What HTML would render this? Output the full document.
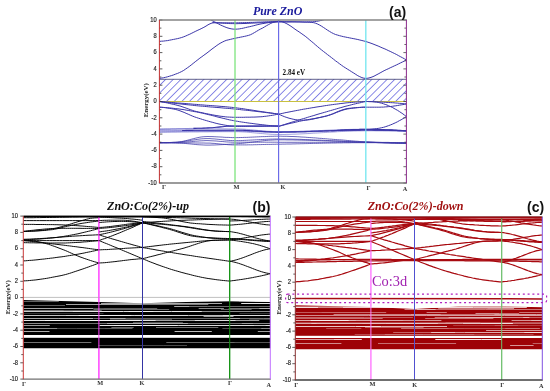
<!DOCTYPE html>
<html><head><meta charset="utf-8"><style>
html,body{margin:0;padding:0;background:#fff;width:550px;height:391px;overflow:hidden}
svg{display:block}
.tl{font-family:"Liberation Sans",Arial,sans-serif;font-size:6.7px;fill:#2a2a2a;stroke:#2a2a2a;stroke-width:0.2;text-anchor:end}
.kl{font-family:"Liberation Serif","DejaVu Serif",serif;font-size:6.3px;font-weight:bold;fill:#333;text-anchor:middle}
.ttl{font-family:"Liberation Serif",serif;font-size:13px;font-weight:bold;font-style:italic}
.pl{font-family:"Liberation Sans",Arial,sans-serif;font-size:14px;font-weight:bold;fill:#111}
.ev{font-family:"Liberation Serif",serif;font-size:7.8px;font-weight:bold;fill:#111}
.co{font-family:"Liberation Serif",serif;font-size:14.4px;fill:#a020b0}
.yl{font-family:"Liberation Serif",serif;font-size:6.9px;font-weight:bold;fill:#1a1a1a}
</style></head><body>
<svg width="550" height="391" viewBox="0 0 550 391"><defs><pattern id="hatch" patternUnits="userSpaceOnUse" width="5.4" height="5.4" patternTransform="rotate(45)">
<line x1="0" y1="0" x2="0" y2="5.4" stroke="#3535d5" stroke-width="1.15"/></pattern></defs><defs><clipPath id="clipa"><rect x="159.4" y="20.0" width="246.99999999999997" height="163.0"/></clipPath><clipPath id="clipb"><rect x="23.3" y="216.1" width="247.0" height="163.00000000000003"/></clipPath><clipPath id="clipc"><rect x="295.3" y="217.0" width="246.99999999999994" height="163.0"/></clipPath></defs><rect width="550" height="391" fill="#ffffff"/><line x1="235.0" y1="20.0" x2="235.0" y2="183.0" stroke="#8ee88e" stroke-width="1"/><line x1="278.6" y1="20.0" x2="278.6" y2="183.0" stroke="#6a6ae8" stroke-width="1"/><line x1="365.8" y1="20.0" x2="365.8" y2="183.0" stroke="#7ee8f0" stroke-width="1"/><rect x="159.4" y="79.3" width="247" height="22.2" fill="url(#hatch)"/><line x1="159.4" y1="79.3" x2="406.4" y2="79.3" stroke="#3a3a70" stroke-width="0.8"/><line x1="159.4" y1="101.5" x2="406.4" y2="101.5" stroke="#c8c040" stroke-width="1"/><g fill="none" stroke="#3b36a8" stroke-width="1.0" clip-path="url(#clipa)"><path d="M159.4,78.4 L161.4,78.1 L163.4,77.8 L165.5,77.3 L167.5,76.8 L169.5,76.2 L171.5,75.6 L173.6,74.9 L175.6,74.1 L177.6,73.4 L179.6,72.5 L181.7,71.5 L183.7,70.4 L185.7,69.0 L187.7,67.6 L189.8,66.1 L191.8,64.5 L193.8,62.9 L195.8,61.3 L197.9,59.7 L199.9,58.1 L201.9,56.7 L203.9,55.2 L206.0,53.7 L208.0,52.2 L210.0,50.6 L212.0,49.0 L214.1,47.5 L216.1,46.0 L218.1,44.6 L220.1,43.3 L222.2,42.2 L224.2,41.2 L226.2,40.4 L228.2,39.9 L230.3,39.4 L232.3,38.9 L234.3,38.5 L236.3,38.0 L238.4,37.6 L240.4,37.2 L242.4,36.8 L244.4,36.4 L246.5,35.9 L248.5,35.4 L250.5,34.7 L252.5,33.7 L254.6,32.5 L256.6,31.3 L258.6,30.1 L260.6,29.0 L262.7,28.0 L264.7,26.8 L266.7,25.6 L268.7,24.5 L270.8,23.4 L272.8,22.5 L274.8,21.8 L276.8,21.4 L278.9,21.2 L280.9,21.4 L282.9,22.0 L284.9,22.8 L286.9,23.8 L289.0,25.0 L291.0,26.3 L293.0,27.7 L295.0,29.2 L297.1,30.6 L299.1,31.9 L301.1,33.3 L303.1,34.7 L305.2,36.2 L307.2,37.8 L309.2,39.5 L311.2,41.2 L313.3,42.9 L315.3,44.7 L317.3,46.4 L319.3,48.1 L321.4,49.8 L323.4,51.4 L325.4,52.9 L327.4,54.5 L329.5,56.1 L331.5,57.6 L333.5,59.2 L335.5,60.8 L337.6,62.3 L339.6,63.8 L341.6,65.3 L343.6,66.7 L345.7,68.0 L347.7,69.3 L349.7,70.5 L351.7,71.8 L353.8,73.1 L355.8,74.4 L357.8,75.7 L359.8,76.7 L361.9,77.6 L363.9,78.2 L365.9,78.4 L367.9,78.2 L370.0,77.7 L372.0,77.0 L374.0,76.2 L376.0,75.1 L378.1,74.0 L380.1,72.9 L382.1,71.8 L384.1,70.7 L386.2,69.7 L388.2,68.8 L390.2,67.8 L392.2,66.9 L394.3,65.9 L396.3,65.0 L398.3,64.0 L400.3,63.0 L402.4,62.0 L404.4,61.0 L406.4,59.9"/><path d="M159.4,41.4 L161.4,41.2 L163.4,41.1 L165.5,40.8 L167.5,40.6 L169.5,40.2 L171.5,39.8 L173.6,39.4 L175.6,39.0 L177.6,38.6 L179.6,38.1 L181.7,37.5 L183.7,36.8 L185.7,36.0 L187.7,35.1 L189.8,34.2 L191.8,33.2 L193.8,32.2 L195.8,31.2 L197.9,30.2 L199.9,29.3 L201.9,28.3 L203.9,27.3 L206.0,26.1 L208.0,24.8 L210.0,23.8 L212.0,23.0 L214.1,22.8 L216.1,22.8 L218.1,22.8 L220.1,22.8 L222.2,22.8 L224.2,22.8 L226.2,22.8 L228.2,22.8 L230.3,22.8 L232.3,22.8 L234.3,22.8 L236.3,22.8 L238.4,22.8 L240.4,22.7 L242.4,22.7 L244.4,22.6 L246.5,22.6 L248.5,22.5 L250.5,22.4 L252.5,22.4 L254.6,22.3 L256.6,22.2 L258.6,22.1 L260.6,22.1 L262.7,22.0 L264.7,21.9 L266.7,21.8 L268.7,21.8 L270.8,21.7 L272.8,21.7 L274.8,21.7 L276.8,21.6 L278.9,21.6 L280.9,21.6 L282.9,21.6 L284.9,21.7 L286.9,21.7 L289.0,21.7 L291.0,21.7 L293.0,21.8 L295.0,21.8 L297.1,21.9 L299.1,21.9 L301.1,22.0 L303.1,22.1 L305.2,22.2 L307.2,22.2 L309.2,22.3 L311.2,22.4 L313.3,22.6 L315.3,23.1 L317.3,23.9 L319.3,24.9 L321.4,26.1 L323.4,27.4 L325.4,28.7 L327.4,30.1 L329.5,31.4 L331.5,32.6 L333.5,33.6 L335.5,34.5 L337.6,35.1 L339.6,35.7 L341.6,36.2 L343.6,36.7 L345.7,37.1 L347.7,37.5 L349.7,37.9 L351.7,38.3 L353.8,38.7 L355.8,39.1 L357.8,39.5 L359.8,40.0 L361.9,40.5 L363.9,41.0 L365.9,41.5 L367.9,42.2 L370.0,42.9 L372.0,43.6 L374.0,44.4 L376.0,45.2 L378.1,46.0 L380.1,46.9 L382.1,47.8 L384.1,48.6 L386.2,49.5 L388.2,50.5 L390.2,51.4 L392.2,52.4 L394.3,53.4 L396.3,54.4 L398.3,55.5 L400.3,56.6 L402.4,57.7 L404.4,58.8 L406.4,59.9"/><path d="M206.3,16.7 L208.3,18.2 L210.4,19.6 L212.5,20.7 L214.5,21.8 L216.6,22.9 L218.7,24.0 L220.7,25.1 L222.8,26.0 L224.9,26.9 L226.9,27.7 L229.0,28.3 L231.1,28.8 L233.1,29.1 L235.2,29.2 L237.3,29.1 L239.3,28.9 L241.4,28.5 L243.5,28.1 L245.5,27.6 L247.6,27.1 L249.7,26.7 L251.7,26.2 L253.8,25.7 L255.9,25.1 L257.9,24.6 L260.0,24.1 L262.1,23.7 L264.1,23.4 L266.2,23.0 L268.3,22.7 L270.3,22.4 L272.4,22.1 L274.5,21.9 L276.5,21.6 L278.6,21.5"/><path d="M212.3,22.3 L214.4,22.5 L216.4,22.7 L218.5,22.8 L220.5,23.0 L222.5,23.2 L224.6,23.3 L226.6,23.4 L228.7,23.5 L230.7,23.6 L232.8,23.6 L234.8,23.7 L236.9,23.7 L238.9,23.6 L240.9,23.6 L243.0,23.5 L245.0,23.5 L247.1,23.4 L249.1,23.3 L251.2,23.2 L253.2,23.1 L255.3,23.0 L257.3,22.9 L259.4,22.8 L261.4,22.7 L263.4,22.6 L265.5,22.5 L267.5,22.4 L269.6,22.3 L271.6,22.2 L273.7,22.1 L275.7,22.1 L277.8,22.0 L279.8,22.0 L281.8,22.0 L283.9,22.0 L285.9,22.0 L288.0,22.0 L290.0,22.0 L292.1,21.9 L294.1,21.9 L296.2,21.9 L298.2,21.9 L300.2,21.9 L302.3,21.9 L304.3,21.9 L306.4,21.9 L308.4,21.8 L310.5,21.8 L312.5,21.8 L314.6,21.6 L316.6,21.3 L318.7,21.0 L320.7,20.5 L322.7,20.0 L324.8,19.4 L326.8,18.8 L328.9,18.2 L330.9,17.6"/><path d="M159.4,101.5 L161.5,101.7 L163.5,101.8 L165.6,102.0 L167.6,102.1 L169.7,102.3 L171.7,102.5 L173.8,102.6 L175.8,102.8 L177.9,103.0 L180.0,103.1 L182.0,103.3 L184.1,103.4 L186.1,103.6 L188.2,103.8 L190.2,103.9 L192.3,104.1 L194.3,104.3 L196.4,104.4 L198.4,104.6 L200.5,104.8 L202.6,104.9 L204.6,105.1 L206.7,105.3 L208.7,105.4 L210.8,105.6 L212.8,105.7 L214.9,105.9 L216.9,106.0 L219.0,106.2 L221.1,106.4 L223.1,106.5 L225.2,106.7 L227.2,106.9 L229.3,107.1 L231.3,107.3 L233.4,107.5 L235.4,107.7 L237.5,108.0 L239.6,108.3 L241.6,108.5 L243.7,108.8 L245.7,109.2 L247.8,109.5 L249.8,109.8 L251.9,110.1 L253.9,110.4 L256.0,110.8 L258.0,111.1 L260.1,111.4 L262.2,111.7 L264.2,112.0 L266.3,112.3 L268.3,112.6 L270.4,112.9 L272.4,113.2 L274.5,113.5 L276.5,113.8 L278.6,114.1"/><path d="M159.4,101.5 L161.5,101.8 L163.5,102.0 L165.6,102.3 L167.6,102.5 L169.7,102.7 L171.7,103.0 L173.8,103.2 L175.8,103.5 L177.9,103.7 L180.0,103.9 L182.0,104.1 L184.1,104.4 L186.1,104.6 L188.2,104.8 L190.2,105.0 L192.3,105.2 L194.3,105.5 L196.4,105.7 L198.4,105.9 L200.5,106.1 L202.6,106.2 L204.6,106.4 L206.7,106.6 L208.7,106.8 L210.8,107.0 L212.8,107.1 L214.9,107.3 L216.9,107.5 L219.0,107.6 L221.1,107.8 L223.1,108.0 L225.2,108.2 L227.2,108.3 L229.3,108.5 L231.3,108.7 L233.4,108.9 L235.4,109.1 L237.5,109.3 L239.6,109.5 L241.6,109.8 L243.7,110.0 L245.7,110.2 L247.8,110.4 L249.8,110.6 L251.9,110.9 L253.9,111.1 L256.0,111.3 L258.0,111.6 L260.1,111.8 L262.2,112.1 L264.2,112.3 L266.3,112.6 L268.3,112.8 L270.4,113.1 L272.4,113.3 L274.5,113.6 L276.5,113.9 L278.6,114.1"/><path d="M159.4,101.5 L161.5,101.8 L163.5,102.2 L165.6,102.6 L167.6,103.0 L169.7,103.5 L171.7,104.0 L173.8,104.4 L175.8,104.9 L177.9,105.5 L180.0,106.0 L182.0,106.7 L184.1,107.4 L186.1,108.1 L188.2,108.9 L190.2,109.6 L192.3,110.3 L194.3,111.0 L196.4,111.5 L198.4,112.0 L200.5,112.4 L202.6,112.8 L204.6,113.3 L206.7,113.7 L208.7,114.1 L210.8,114.5 L212.8,114.9 L214.9,115.3 L216.9,115.6 L219.0,116.0 L221.1,116.3 L223.1,116.5 L225.2,116.8 L227.2,117.0 L229.3,117.1 L231.3,117.2 L233.4,117.3 L235.4,117.3 L237.5,117.3 L239.6,117.3 L241.6,117.3 L243.7,117.3 L245.7,117.2 L247.8,117.2 L249.8,117.2 L251.9,117.1 L253.9,117.1 L256.0,117.0 L258.0,116.9 L260.1,116.8 L262.2,116.7 L264.2,116.4 L266.3,116.2 L268.3,115.9 L270.4,115.6 L272.4,115.3 L274.5,114.9 L276.5,114.5 L278.6,114.1"/><path d="M159.4,107.2 L161.5,107.3 L163.5,107.4 L165.6,107.6 L167.6,107.8 L169.7,107.9 L171.7,108.1 L173.8,108.4 L175.8,108.6 L177.9,108.8 L180.0,109.1 L182.0,109.4 L184.1,109.7 L186.1,110.1 L188.2,110.4 L190.2,110.8 L192.3,111.2 L194.3,111.6 L196.4,111.9 L198.4,112.3 L200.5,112.8 L202.6,113.2 L204.6,113.7 L206.7,114.2 L208.7,114.7 L210.8,115.2 L212.8,115.7 L214.9,116.2 L216.9,116.8 L219.0,117.3 L221.1,117.8 L223.1,118.3 L225.2,118.8 L227.2,119.3 L229.3,119.8 L231.3,120.2 L233.4,120.6 L235.4,121.0 L237.5,121.3 L239.6,121.7 L241.6,122.0 L243.7,122.3 L245.7,122.6 L247.8,122.9 L249.8,123.2 L251.9,123.4 L253.9,123.7 L256.0,124.0 L258.0,124.2 L260.1,124.5 L262.2,124.7 L264.2,124.9 L266.3,125.2 L268.3,125.4 L270.4,125.6 L272.4,125.8 L274.5,126.0 L276.5,126.2 L278.6,126.4"/><path d="M159.4,107.2 L161.5,107.3 L163.5,107.5 L165.6,107.7 L167.6,108.0 L169.7,108.4 L171.7,108.7 L173.8,109.1 L175.8,109.5 L177.9,110.1 L180.0,110.8 L182.0,111.6 L184.1,112.4 L186.1,113.3 L188.2,114.2 L190.2,115.1 L192.3,116.0 L194.3,116.8 L196.4,117.5 L198.4,118.2 L200.5,118.8 L202.6,119.5 L204.6,120.1 L206.7,120.7 L208.7,121.3 L210.8,121.9 L212.8,122.4 L214.9,123.0 L216.9,123.5 L219.0,124.0 L221.1,124.4 L223.1,124.8 L225.2,125.2 L227.2,125.5 L229.3,125.8 L231.3,126.1 L233.4,126.3 L235.4,126.4 L237.5,126.4 L239.6,126.4 L241.6,126.4 L243.7,126.4 L245.7,126.4 L247.8,126.3 L249.8,126.3 L251.9,126.3 L253.9,126.3 L256.0,126.3 L258.0,126.3 L260.1,126.3 L262.2,126.3 L264.2,126.2 L266.3,126.2 L268.3,126.2 L270.4,126.1 L272.4,126.1 L274.5,126.1 L276.5,126.0 L278.6,126.0"/><path d="M278.6,114.1 L280.7,113.7 L282.8,113.3 L284.8,112.8 L286.9,112.4 L289.0,112.0 L291.1,111.6 L293.1,111.2 L295.2,110.8 L297.3,110.4 L299.4,110.0 L301.4,109.6 L303.5,109.2 L305.6,108.9 L307.7,108.5 L309.7,108.2 L311.8,107.8 L313.9,107.5 L316.0,107.1 L318.0,106.8 L320.1,106.5 L322.2,106.2 L324.3,105.8 L326.4,105.5 L328.4,105.2 L330.5,104.9 L332.6,104.6 L334.7,104.3 L336.7,104.1 L338.8,103.8 L340.9,103.5 L343.0,103.3 L345.0,103.0 L347.1,102.8 L349.2,102.6 L351.3,102.5 L353.3,102.3 L355.4,102.1 L357.5,102.0 L359.6,101.8 L361.6,101.7 L363.7,101.6 L365.8,101.5"/><path d="M278.6,126.4 L280.7,125.7 L282.8,125.0 L284.8,124.4 L286.9,123.7 L289.0,123.1 L291.1,122.4 L293.1,121.8 L295.2,121.1 L297.3,120.5 L299.4,119.8 L301.4,119.2 L303.5,118.6 L305.6,118.0 L307.7,117.3 L309.7,116.7 L311.8,116.1 L313.9,115.5 L316.0,114.8 L318.0,114.2 L320.1,113.6 L322.2,113.0 L324.3,112.4 L326.4,111.8 L328.4,111.2 L330.5,110.6 L332.6,110.0 L334.7,109.4 L336.7,108.8 L338.8,108.2 L340.9,107.6 L343.0,107.0 L345.0,106.4 L347.1,105.9 L349.2,105.4 L351.3,104.8 L353.3,104.3 L355.4,103.8 L357.5,103.3 L359.6,102.9 L361.6,102.4 L363.7,101.9 L365.8,101.5"/><path d="M278.6,114.1 L280.7,115.1 L282.8,116.0 L284.8,116.8 L286.9,117.5 L289.0,118.2 L291.1,118.7 L293.1,119.2 L295.2,119.6 L297.3,119.9 L299.4,120.1 L301.4,120.2 L303.5,120.2 L305.6,120.1 L307.7,119.9 L309.7,119.7 L311.8,119.3 L313.9,118.9 L316.0,118.4 L318.0,117.9 L320.1,117.4 L322.2,116.9 L324.3,116.4 L326.4,115.9 L328.4,115.3 L330.5,114.6 L332.6,113.8 L334.7,112.9 L336.7,112.0 L338.8,111.2 L340.9,110.4 L343.0,109.7 L345.0,109.1 L347.1,108.6 L349.2,108.3 L351.3,108.1 L353.3,107.9 L355.4,107.7 L357.5,107.5 L359.6,107.4 L361.6,107.3 L363.7,107.2 L365.8,107.2"/><path d="M278.6,126.4 L280.7,125.8 L282.8,125.3 L284.8,124.8 L286.9,124.2 L289.0,123.7 L291.1,123.2 L293.1,122.8 L295.2,122.3 L297.3,121.8 L299.4,121.3 L301.4,120.9 L303.5,120.5 L305.6,120.0 L307.7,119.7 L309.7,119.3 L311.8,118.9 L313.9,118.6 L316.0,118.2 L318.0,117.8 L320.1,117.5 L322.2,117.0 L324.3,116.6 L326.4,116.1 L328.4,115.5 L330.5,114.8 L332.6,114.1 L334.7,113.3 L336.7,112.4 L338.8,111.6 L340.9,110.8 L343.0,110.1 L345.0,109.5 L347.1,109.0 L349.2,108.7 L351.3,108.4 L353.3,108.1 L355.4,107.9 L357.5,107.7 L359.6,107.5 L361.6,107.3 L363.7,107.2 L365.8,107.2"/><path d="M365.8,101.5 L367.6,101.5 L369.3,101.6 L371.1,101.6 L372.9,101.7 L374.6,101.8 L376.4,101.8 L378.2,101.9 L379.9,102.0 L381.7,102.1 L383.5,102.2 L385.2,102.3 L387.0,102.4 L388.7,102.5 L390.5,102.6 L392.3,102.7 L394.0,102.8 L395.8,103.0 L397.6,103.1 L399.3,103.3 L401.1,103.4 L402.9,103.6 L404.6,103.8 L406.4,103.9"/><path d="M365.8,101.5 L367.6,101.5 L369.3,101.6 L371.1,101.6 L372.9,101.7 L374.6,101.9 L376.4,102.1 L378.2,102.4 L379.9,102.8 L381.7,103.2 L383.5,103.8 L385.2,104.4 L387.0,105.0 L388.7,105.8 L390.5,106.6 L392.3,107.4 L394.0,108.4 L395.8,109.4 L397.6,110.4 L399.3,111.5 L401.1,112.7 L402.9,113.9 L404.6,115.2 L406.4,116.6"/><path d="M365.8,107.2 L367.6,107.2 L369.3,107.2 L371.1,107.2 L372.9,107.2 L374.6,107.2 L376.4,107.2 L378.2,107.2 L379.9,107.2 L381.7,107.1 L383.5,107.1 L385.2,106.9 L387.0,106.8 L388.7,106.6 L390.5,106.5 L392.3,106.3 L394.0,106.0 L395.8,105.8 L397.6,105.5 L399.3,105.2 L401.1,104.9 L402.9,104.6 L404.6,104.3 L406.4,103.9"/><path d="M365.8,129.6 L367.6,129.6 L369.3,129.5 L371.1,129.3 L372.9,129.1 L374.6,128.9 L376.4,128.6 L378.2,128.4 L379.9,128.1 L381.7,127.7 L383.5,127.3 L385.2,126.8 L387.0,126.2 L388.7,125.6 L390.5,124.9 L392.3,124.2 L394.0,123.4 L395.8,122.6 L397.6,121.7 L399.3,120.7 L401.1,119.8 L402.9,118.7 L404.6,117.7 L406.4,116.6"/><path d="M159.4,128.9 L161.5,128.9 L163.5,128.8 L165.6,128.8 L167.6,128.8 L169.7,128.8 L171.7,128.7 L173.8,128.7 L175.8,128.7 L177.9,128.6 L180.0,128.6 L182.0,128.6 L184.1,128.5 L186.1,128.5 L188.2,128.5 L190.2,128.4 L192.3,128.4 L194.3,128.3 L196.4,128.3 L198.4,128.2 L200.5,128.2 L202.6,128.1 L204.6,128.1 L206.7,128.0 L208.7,127.9 L210.8,127.8 L212.8,127.6 L214.9,127.5 L216.9,127.3 L219.0,127.1 L221.1,126.8 L223.1,126.6 L225.2,126.5 L227.2,126.3 L229.3,126.1 L231.3,126.0 L233.4,126.0 L235.4,126.0 L237.5,126.0 L239.6,126.0 L241.6,126.0 L243.7,126.0 L245.7,126.0 L247.8,126.0 L249.8,126.0 L251.9,126.0 L253.9,126.0 L256.0,126.0 L258.0,126.0 L260.1,126.0 L262.2,126.0 L264.2,126.0 L266.3,126.0 L268.3,126.0 L270.4,126.0 L272.4,126.0 L274.5,126.0 L276.5,126.0 L278.6,126.0" stroke="#4a48c0" stroke-opacity="0.55" stroke-width="0.9"/><path d="M159.4,129.4 L161.4,129.3 L163.4,129.3 L165.5,129.2 L167.5,129.2 L169.5,129.2 L171.5,129.1 L173.6,129.1 L175.6,129.1 L177.6,129.0 L179.6,129.0 L181.7,129.0 L183.7,129.0 L185.7,128.9 L187.7,128.9 L189.8,128.9 L191.8,128.9 L193.8,128.9 L195.8,128.8 L197.9,128.8 L199.9,128.8 L201.9,128.8 L203.9,128.8 L206.0,128.8 L208.0,128.8 L210.0,128.8 L212.0,128.8 L214.1,128.8 L216.1,128.8 L218.1,128.8 L220.1,128.8 L222.2,128.8 L224.2,128.8 L226.2,128.8 L228.2,128.9 L230.3,128.9 L232.3,128.9 L234.3,128.9 L236.3,128.9 L238.4,128.9 L240.4,129.0 L242.4,129.1 L244.4,129.2 L246.5,129.4 L248.5,129.5 L250.5,129.7 L252.5,129.9 L254.6,130.1 L256.6,130.3 L258.6,130.5 L260.6,130.7 L262.7,130.8 L264.7,131.0 L266.7,131.2 L268.7,131.3 L270.8,131.4 L272.8,131.5 L274.8,131.6 L276.8,131.6 L278.9,131.7 L280.9,131.7 L282.9,131.6 L284.9,131.6 L286.9,131.6 L289.0,131.6 L291.0,131.5 L293.0,131.5 L295.0,131.4 L297.1,131.4 L299.1,131.3 L301.1,131.2 L303.1,131.2 L305.2,131.1 L307.2,131.0 L309.2,131.0 L311.2,130.9 L313.3,130.8 L315.3,130.7 L317.3,130.6 L319.3,130.6 L321.4,130.5 L323.4,130.4 L325.4,130.3 L327.4,130.2 L329.5,130.1 L331.5,130.0 L333.5,130.0 L335.5,129.9 L337.6,129.8 L339.6,129.7 L341.6,129.7 L343.6,129.6 L345.7,129.5 L347.7,129.5 L349.7,129.4 L351.7,129.4 L353.8,129.3 L355.8,129.3 L357.8,129.3 L359.8,129.2 L361.9,129.2 L363.9,129.2 L365.9,129.2 L367.9,129.2 L370.0,129.2 L372.0,129.3 L374.0,129.3 L376.0,129.3 L378.1,129.4 L380.1,129.5 L382.1,129.5 L384.1,129.6 L386.2,129.7 L388.2,129.8 L390.2,129.9 L392.2,130.0 L394.3,130.1 L396.3,130.2 L398.3,130.4 L400.3,130.5 L402.4,130.6 L404.4,130.7 L406.4,130.8" stroke="#4a48c0" stroke-opacity="0.55" stroke-width="0.9"/><path d="M159.4,130.0 L161.4,130.0 L163.4,130.0 L165.5,130.0 L167.5,130.0 L169.5,130.0 L171.5,130.1 L173.6,130.1 L175.6,130.1 L177.6,130.1 L179.6,130.1 L181.7,130.1 L183.7,130.1 L185.7,130.2 L187.7,130.2 L189.8,130.2 L191.8,130.2 L193.8,130.2 L195.8,130.3 L197.9,130.3 L199.9,130.3 L201.9,130.3 L203.9,130.4 L206.0,130.4 L208.0,130.4 L210.0,130.5 L212.0,130.5 L214.1,130.5 L216.1,130.5 L218.1,130.6 L220.1,130.6 L222.2,130.6 L224.2,130.7 L226.2,130.7 L228.2,130.7 L230.3,130.8 L232.3,130.8 L234.3,130.8 L236.3,130.9 L238.4,130.9 L240.4,131.0 L242.4,131.0 L244.4,131.1 L246.5,131.1 L248.5,131.2 L250.5,131.3 L252.5,131.4 L254.6,131.5 L256.6,131.5 L258.6,131.6 L260.6,131.7 L262.7,131.8 L264.7,131.8 L266.7,131.9 L268.7,131.9 L270.8,132.0 L272.8,132.0 L274.8,132.0 L276.8,132.1 L278.9,132.1 L280.9,132.1 L282.9,132.0 L284.9,132.0 L286.9,132.0 L289.0,132.0 L291.0,131.9 L293.0,131.9 L295.0,131.8 L297.1,131.8 L299.1,131.7 L301.1,131.7 L303.1,131.6 L305.2,131.5 L307.2,131.4 L309.2,131.4 L311.2,131.3 L313.3,131.2 L315.3,131.1 L317.3,131.0 L319.3,131.0 L321.4,130.9 L323.4,130.8 L325.4,130.7 L327.4,130.6 L329.5,130.5 L331.5,130.5 L333.5,130.4 L335.5,130.3 L337.6,130.2 L339.6,130.1 L341.6,130.1 L343.6,130.0 L345.7,129.9 L347.7,129.9 L349.7,129.8 L351.7,129.8 L353.8,129.7 L355.8,129.7 L357.8,129.7 L359.8,129.7 L361.9,129.6 L363.9,129.6 L365.9,129.6 L367.9,129.6 L370.0,129.6 L372.0,129.7 L374.0,129.7 L376.0,129.7 L378.1,129.8 L380.1,129.8 L382.1,129.9 L384.1,129.9 L386.2,130.0 L388.2,130.1 L390.2,130.1 L392.2,130.2 L394.3,130.3 L396.3,130.4 L398.3,130.5 L400.3,130.6 L402.4,130.6 L404.4,130.7 L406.4,130.8" stroke="#4a48c0" stroke-opacity="0.55" stroke-width="0.9"/><path d="M159.4,130.8 L161.4,130.8 L163.4,130.8 L165.5,130.8 L167.5,130.8 L169.5,130.8 L171.5,130.8 L173.6,130.8 L175.6,130.7 L177.6,130.7 L179.6,130.7 L181.7,130.7 L183.7,130.7 L185.7,130.7 L187.7,130.6 L189.8,130.6 L191.8,130.6 L193.8,130.6 L195.8,130.6 L197.9,130.5 L199.9,130.5 L201.9,130.5 L203.9,130.5 L206.0,130.4 L208.0,130.4 L210.0,130.4 L212.0,130.4 L214.1,130.3 L216.1,130.3 L218.1,130.2 L220.1,130.2 L222.2,130.2 L224.2,130.1 L226.2,130.1 L228.2,130.1 L230.3,130.0 L232.3,130.0 L234.3,130.0 L236.3,130.0 L238.4,130.1 L240.4,130.1 L242.4,130.2 L244.4,130.2 L246.5,130.3 L248.5,130.4 L250.5,130.5 L252.5,130.7 L254.6,130.8 L256.6,130.9 L258.6,131.0 L260.6,131.2 L262.7,131.3 L264.7,131.4 L266.7,131.5 L268.7,131.6 L270.8,131.7 L272.8,131.7 L274.8,131.8 L276.8,131.8 L278.9,131.8 L280.9,131.8 L282.9,131.8 L284.9,131.8 L286.9,131.8 L289.0,131.7 L291.0,131.7 L293.0,131.7 L295.0,131.7 L297.1,131.6 L299.1,131.6 L301.1,131.5 L303.1,131.5 L305.2,131.4 L307.2,131.4 L309.2,131.3 L311.2,131.3 L313.3,131.2 L315.3,131.1 L317.3,131.1 L319.3,131.0 L321.4,130.9 L323.4,130.9 L325.4,130.8 L327.4,130.8 L329.5,130.7 L331.5,130.6 L333.5,130.6 L335.5,130.5 L337.6,130.5 L339.6,130.4 L341.6,130.4 L343.6,130.3 L345.7,130.3 L347.7,130.2 L349.7,130.2 L351.7,130.1 L353.8,130.1 L355.8,130.1 L357.8,130.1 L359.8,130.0 L361.9,130.0 L363.9,130.0 L365.9,130.0 L367.9,130.0 L370.0,130.0 L372.0,130.1 L374.0,130.1 L376.0,130.1 L378.1,130.1 L380.1,130.2 L382.1,130.2 L384.1,130.3 L386.2,130.3 L388.2,130.4 L390.2,130.4 L392.2,130.5 L394.3,130.6 L396.3,130.6 L398.3,130.7 L400.3,130.8 L402.4,130.9 L404.4,130.9 L406.4,131.0" stroke="#4a48c0" stroke-opacity="0.55" stroke-width="0.9"/><path d="M159.4,131.7 L161.4,131.7 L163.4,131.7 L165.5,131.7 L167.5,131.7 L169.5,131.7 L171.5,131.7 L173.6,131.7 L175.6,131.7 L177.6,131.7 L179.6,131.7 L181.7,131.7 L183.7,131.7 L185.7,131.7 L187.7,131.7 L189.8,131.7 L191.8,131.7 L193.8,131.7 L195.8,131.7 L197.9,131.7 L199.9,131.7 L201.9,131.7 L203.9,131.7 L206.0,131.7 L208.0,131.7 L210.0,131.6 L212.0,131.6 L214.1,131.6 L216.1,131.5 L218.1,131.4 L220.1,131.4 L222.2,131.3 L224.2,131.2 L226.2,131.2 L228.2,131.1 L230.3,131.1 L232.3,131.0 L234.3,131.0 L236.3,131.0 L238.4,131.0 L240.4,131.1 L242.4,131.1 L244.4,131.2 L246.5,131.3 L248.5,131.3 L250.5,131.4 L252.5,131.5 L254.6,131.6 L256.6,131.7 L258.6,131.8 L260.6,131.9 L262.7,132.0 L264.7,132.1 L266.7,132.2 L268.7,132.3 L270.8,132.3 L272.8,132.4 L274.8,132.4 L276.8,132.5 L278.9,132.5 L280.9,132.5 L282.9,132.5 L284.9,132.4 L286.9,132.4 L289.0,132.4 L291.0,132.4 L293.0,132.3 L295.0,132.3 L297.1,132.2 L299.1,132.2 L301.1,132.1 L303.1,132.1 L305.2,132.0 L307.2,132.0 L309.2,131.9 L311.2,131.8 L313.3,131.8 L315.3,131.7 L317.3,131.6 L319.3,131.6 L321.4,131.5 L323.4,131.4 L325.4,131.3 L327.4,131.3 L329.5,131.2 L331.5,131.1 L333.5,131.1 L335.5,131.0 L337.6,130.9 L339.6,130.9 L341.6,130.8 L343.6,130.8 L345.7,130.7 L347.7,130.7 L349.7,130.6 L351.7,130.6 L353.8,130.5 L355.8,130.5 L357.8,130.5 L359.8,130.5 L361.9,130.4 L363.9,130.4 L365.9,130.4 L367.9,130.4 L370.0,130.4 L372.0,130.4 L374.0,130.5 L376.0,130.5 L378.1,130.5 L380.1,130.5 L382.1,130.5 L384.1,130.6 L386.2,130.6 L388.2,130.6 L390.2,130.7 L392.2,130.7 L394.3,130.7 L396.3,130.8 L398.3,130.8 L400.3,130.9 L402.4,130.9 L404.4,131.0 L406.4,131.0" stroke="#4a48c0" stroke-opacity="0.55" stroke-width="0.9"/><path d="M159.4,132.5 L161.4,132.4 L163.4,132.3 L165.5,132.3 L167.5,132.2 L169.5,132.2 L171.5,132.1 L173.6,132.1 L175.6,132.1 L177.6,132.0 L179.6,132.0 L181.7,131.9 L183.7,131.9 L185.7,131.9 L187.7,131.9 L189.8,131.8 L191.8,131.8 L193.8,131.8 L195.8,131.8 L197.9,131.8 L199.9,131.7 L201.9,131.7 L203.9,131.7 L206.0,131.7 L208.0,131.7 L210.0,131.7 L212.0,131.7 L214.1,131.7 L216.1,131.7 L218.1,131.7 L220.1,131.7 L222.2,131.7 L224.2,131.7 L226.2,131.7 L228.2,131.7 L230.3,131.7 L232.3,131.7 L234.3,131.7 L236.3,131.7 L238.4,131.7 L240.4,131.8 L242.4,131.9 L244.4,132.0 L246.5,132.1 L248.5,132.3 L250.5,132.5 L252.5,132.7 L254.6,132.9 L256.6,133.1 L258.6,133.3 L260.6,133.5 L262.7,133.6 L264.7,133.8 L266.7,134.0 L268.7,134.1 L270.8,134.3 L272.8,134.4 L274.8,134.4 L276.8,134.5 L278.9,134.5 L280.9,134.5 L282.9,134.5 L284.9,134.5 L286.9,134.4 L289.0,134.4 L291.0,134.3 L293.0,134.2 L295.0,134.2 L297.1,134.1 L299.1,134.0 L301.1,133.9 L303.1,133.8 L305.2,133.7 L307.2,133.6 L309.2,133.5 L311.2,133.4 L313.3,133.2 L315.3,133.1 L317.3,133.0 L319.3,132.9 L321.4,132.7 L323.4,132.6 L325.4,132.5 L327.4,132.3 L329.5,132.2 L331.5,132.1 L333.5,132.0 L335.5,131.9 L337.6,131.7 L339.6,131.6 L341.6,131.5 L343.6,131.4 L345.7,131.3 L347.7,131.2 L349.7,131.2 L351.7,131.1 L353.8,131.0 L355.8,131.0 L357.8,130.9 L359.8,130.9 L361.9,130.9 L363.9,130.8 L365.9,130.8 L367.9,130.8 L370.0,130.8 L372.0,130.8 L374.0,130.8 L376.0,130.9 L378.1,130.9 L380.1,130.9 L382.1,130.9 L384.1,130.9 L386.2,130.9 L388.2,130.9 L390.2,130.9 L392.2,131.0 L394.3,131.0 L396.3,131.0 L398.3,131.1 L400.3,131.1 L402.4,131.1 L404.4,131.2 L406.4,131.2" stroke="#4a48c0" stroke-opacity="0.55" stroke-width="0.9"/><path d="M159.4,142.7 L161.4,142.7 L163.4,142.6 L165.5,142.6 L167.5,142.6 L169.5,142.5 L171.5,142.5 L173.6,142.4 L175.6,142.4 L177.6,142.2 L179.6,141.9 L181.7,141.6 L183.7,141.1 L185.7,140.7 L187.7,140.2 L189.8,139.6 L191.8,139.1 L193.8,138.6 L195.8,138.1 L197.9,137.6 L199.9,137.2 L201.9,136.9 L203.9,136.7 L206.0,136.6 L208.0,136.5 L210.0,136.6 L212.0,136.6 L214.1,136.7 L216.1,136.8 L218.1,136.9 L220.1,137.0 L222.2,137.1 L224.2,137.3 L226.2,137.4 L228.2,137.4 L230.3,137.5 L232.3,137.6 L234.3,137.6 L236.3,137.6 L238.4,137.6 L240.4,137.5 L242.4,137.5 L244.4,137.4 L246.5,137.4 L248.5,137.3 L250.5,137.2 L252.5,137.1 L254.6,137.0 L256.6,136.9 L258.6,136.8 L260.6,136.7 L262.7,136.6 L264.7,136.6 L266.7,136.5 L268.7,136.4 L270.8,136.3 L272.8,136.3 L274.8,136.2 L276.8,136.2 L278.9,136.2 L280.9,136.2 L282.9,136.3 L284.9,136.3 L286.9,136.3 L289.0,136.4 L291.0,136.5 L293.0,136.5 L295.0,136.6 L297.1,136.7 L299.1,136.8 L301.1,137.0 L303.1,137.1 L305.2,137.2 L307.2,137.4 L309.2,137.5 L311.2,137.6 L313.3,137.8 L315.3,137.9 L317.3,138.1 L319.3,138.3 L321.4,138.4 L323.4,138.6 L325.4,138.7 L327.4,138.9 L329.5,139.1 L331.5,139.2 L333.5,139.4 L335.5,139.5 L337.6,139.7 L339.6,139.8 L341.6,139.9 L343.6,140.1 L345.7,140.3 L347.7,140.5 L349.7,140.6 L351.7,140.8 L353.8,141.0 L355.8,141.2 L357.8,141.3 L359.8,141.5 L361.9,141.6 L363.9,141.7 L365.9,141.8 L367.9,141.9 L370.0,142.0 L372.0,142.1 L374.0,142.2 L376.0,142.3 L378.1,142.4 L380.1,142.5 L382.1,142.5 L384.1,142.6 L386.2,142.7 L388.2,142.7 L390.2,142.8 L392.2,142.9 L394.3,142.9 L396.3,143.0 L398.3,143.0 L400.3,143.0 L402.4,143.0 L404.4,143.1 L406.4,143.1" stroke="#3b36a8" stroke-opacity="0.8" stroke-width="0.95"/><path d="M159.4,142.7 L161.4,142.6 L163.4,142.6 L165.5,142.6 L167.5,142.5 L169.5,142.5 L171.5,142.4 L173.6,142.3 L175.6,142.3 L177.6,142.2 L179.6,142.0 L181.7,141.8 L183.7,141.5 L185.7,141.2 L187.7,140.9 L189.8,140.6 L191.8,140.2 L193.8,139.9 L195.8,139.6 L197.9,139.3 L199.9,139.0 L201.9,138.8 L203.9,138.7 L206.0,138.6 L208.0,138.6 L210.0,138.6 L212.0,138.8 L214.1,138.9 L216.1,139.1 L218.1,139.3 L220.1,139.5 L222.2,139.7 L224.2,139.9 L226.2,140.1 L228.2,140.3 L230.3,140.5 L232.3,140.6 L234.3,140.6 L236.3,140.6 L238.4,140.6 L240.4,140.6 L242.4,140.5 L244.4,140.4 L246.5,140.3 L248.5,140.2 L250.5,140.1 L252.5,140.0 L254.6,139.9 L256.6,139.8 L258.6,139.7 L260.6,139.6 L262.7,139.5 L264.7,139.4 L266.7,139.3 L268.7,139.2 L270.8,139.1 L272.8,139.1 L274.8,139.0 L276.8,139.0 L278.9,139.0 L280.9,139.0 L282.9,139.0 L284.9,139.0 L286.9,139.1 L289.0,139.1 L291.0,139.1 L293.0,139.2 L295.0,139.2 L297.1,139.3 L299.1,139.3 L301.1,139.4 L303.1,139.5 L305.2,139.6 L307.2,139.6 L309.2,139.7 L311.2,139.8 L313.3,139.9 L315.3,140.0 L317.3,140.1 L319.3,140.1 L321.4,140.2 L323.4,140.3 L325.4,140.4 L327.4,140.5 L329.5,140.6 L331.5,140.7 L333.5,140.8 L335.5,140.9 L337.6,140.9 L339.6,141.0 L341.6,141.1 L343.6,141.2 L345.7,141.3 L347.7,141.4 L349.7,141.5 L351.7,141.6 L353.8,141.7 L355.8,141.8 L357.8,141.9 L359.8,142.0 L361.9,142.1 L363.9,142.2 L365.9,142.3 L367.9,142.3 L370.0,142.4 L372.0,142.4 L374.0,142.5 L376.0,142.5 L378.1,142.6 L380.1,142.6 L382.1,142.7 L384.1,142.7 L386.2,142.8 L388.2,142.8 L390.2,142.9 L392.2,142.9 L394.3,142.9 L396.3,143.0 L398.3,143.0 L400.3,143.0 L402.4,143.0 L404.4,143.1 L406.4,143.1" stroke="#3b36a8" stroke-opacity="0.8" stroke-width="0.95"/><path d="M159.4,142.7 L161.4,142.7 L163.4,142.6 L165.5,142.6 L167.5,142.6 L169.5,142.6 L171.5,142.5 L173.6,142.5 L175.6,142.4 L177.6,142.4 L179.6,142.3 L181.7,142.3 L183.7,142.2 L185.7,142.1 L187.7,141.9 L189.8,141.8 L191.8,141.6 L193.8,141.4 L195.8,141.2 L197.9,141.1 L199.9,140.9 L201.9,140.8 L203.9,140.7 L206.0,140.6 L208.0,140.6 L210.0,140.7 L212.0,140.8 L214.1,140.9 L216.1,141.0 L218.1,141.2 L220.1,141.4 L222.2,141.5 L224.2,141.7 L226.2,141.9 L228.2,142.0 L230.3,142.1 L232.3,142.2 L234.3,142.2 L236.3,142.2 L238.4,142.2 L240.4,142.2 L242.4,142.2 L244.4,142.2 L246.5,142.2 L248.5,142.2 L250.5,142.2 L252.5,142.2 L254.6,142.2 L256.6,142.2 L258.6,142.2 L260.6,142.2 L262.7,142.2 L264.7,142.2 L266.7,142.2 L268.7,142.2 L270.8,142.2 L272.8,142.2 L274.8,142.2 L276.8,142.2 L278.9,142.3 L280.9,142.3 L282.9,142.3 L284.9,142.3 L286.9,142.3 L289.0,142.3 L291.0,142.3 L293.0,142.3 L295.0,142.3 L297.1,142.3 L299.1,142.3 L301.1,142.3 L303.1,142.3 L305.2,142.3 L307.2,142.3 L309.2,142.3 L311.2,142.3 L313.3,142.3 L315.3,142.3 L317.3,142.3 L319.3,142.3 L321.4,142.3 L323.4,142.3 L325.4,142.3 L327.4,142.3 L329.5,142.3 L331.5,142.3 L333.5,142.3 L335.5,142.3 L337.6,142.3 L339.6,142.3 L341.6,142.3 L343.6,142.3 L345.7,142.3 L347.7,142.4 L349.7,142.4 L351.7,142.4 L353.8,142.4 L355.8,142.4 L357.8,142.4 L359.8,142.4 L361.9,142.4 L363.9,142.4 L365.9,142.4 L367.9,142.4 L370.0,142.4 L372.0,142.5 L374.0,142.5 L376.0,142.5 L378.1,142.5 L380.1,142.6 L382.1,142.6 L384.1,142.7 L386.2,142.7 L388.2,142.8 L390.2,142.8 L392.2,142.9 L394.3,142.9 L396.3,143.0 L398.3,143.0 L400.3,143.1 L402.4,143.1 L404.4,143.2 L406.4,143.2" stroke="#3b36a8" stroke-opacity="0.8" stroke-width="0.95"/><path d="M159.4,142.8 L161.4,142.8 L163.4,142.8 L165.5,142.8 L167.5,142.8 L169.5,142.8 L171.5,142.8 L173.6,142.8 L175.6,142.8 L177.6,142.9 L179.6,142.9 L181.7,142.9 L183.7,142.9 L185.7,142.9 L187.7,142.9 L189.8,142.9 L191.8,142.9 L193.8,142.9 L195.8,143.0 L197.9,143.0 L199.9,143.0 L201.9,143.0 L203.9,143.0 L206.0,143.1 L208.0,143.1 L210.0,143.1 L212.0,143.3 L214.1,143.4 L216.1,143.6 L218.1,143.8 L220.1,144.0 L222.2,144.2 L224.2,144.3 L226.2,144.5 L228.2,144.7 L230.3,144.8 L232.3,144.9 L234.3,144.9 L236.3,144.9 L238.4,144.9 L240.4,144.9 L242.4,144.9 L244.4,144.9 L246.5,144.9 L248.5,144.8 L250.5,144.8 L252.5,144.8 L254.6,144.7 L256.6,144.7 L258.6,144.6 L260.6,144.6 L262.7,144.5 L264.7,144.5 L266.7,144.4 L268.7,144.4 L270.8,144.4 L272.8,144.3 L274.8,144.3 L276.8,144.2 L278.9,144.2 L280.9,144.2 L282.9,144.1 L284.9,144.1 L286.9,144.0 L289.0,144.0 L291.0,144.0 L293.0,143.9 L295.0,143.9 L297.1,143.8 L299.1,143.8 L301.1,143.7 L303.1,143.7 L305.2,143.6 L307.2,143.6 L309.2,143.5 L311.2,143.5 L313.3,143.4 L315.3,143.4 L317.3,143.4 L319.3,143.3 L321.4,143.3 L323.4,143.2 L325.4,143.2 L327.4,143.1 L329.5,143.1 L331.5,143.0 L333.5,143.0 L335.5,143.0 L337.6,142.9 L339.6,142.9 L341.6,142.9 L343.6,142.8 L345.7,142.8 L347.7,142.8 L349.7,142.8 L351.7,142.7 L353.8,142.7 L355.8,142.7 L357.8,142.7 L359.8,142.7 L361.9,142.7 L363.9,142.7 L365.9,142.7 L367.9,142.7 L370.0,142.7 L372.0,142.7 L374.0,142.7 L376.0,142.7 L378.1,142.8 L380.1,142.8 L382.1,142.8 L384.1,142.9 L386.2,142.9 L388.2,142.9 L390.2,143.0 L392.2,143.1 L394.3,143.1 L396.3,143.2 L398.3,143.2 L400.3,143.3 L402.4,143.3 L404.4,143.4 L406.4,143.5" stroke="#3b36a8" stroke-opacity="0.8" stroke-width="0.95"/><path d="M159.4,142.8 L161.4,142.8 L163.4,142.8 L165.5,142.9 L167.5,142.9 L169.5,142.9 L171.5,142.9 L173.6,143.0 L175.6,143.0 L177.6,143.1 L179.6,143.1 L181.7,143.2 L183.7,143.3 L185.7,143.5 L187.7,143.7 L189.8,143.9 L191.8,144.1 L193.8,144.3 L195.8,144.5 L197.9,144.7 L199.9,144.8 L201.9,144.9 L203.9,145.0 L206.0,145.1 L208.0,145.1 L210.0,145.1 L212.0,145.0 L214.1,145.0 L216.1,144.9 L218.1,144.8 L220.1,144.7 L222.2,144.6 L224.2,144.5 L226.2,144.4 L228.2,144.3 L230.3,144.2 L232.3,144.0 L234.3,143.9 L236.3,143.8 L238.4,143.6 L240.4,143.5 L242.4,143.3 L244.4,143.1 L246.5,142.8 L248.5,142.6 L250.5,142.3 L252.5,142.1 L254.6,141.8 L256.6,141.6 L258.6,141.3 L260.6,141.1 L262.7,140.8 L264.7,140.6 L266.7,140.4 L268.7,140.2 L270.8,140.1 L272.8,140.0 L274.8,139.9 L276.8,139.8 L278.9,139.8 L280.9,139.8 L282.9,139.8 L284.9,139.8 L286.9,139.9 L289.0,139.9 L291.0,139.9 L293.0,139.9 L295.0,140.0 L297.1,140.0 L299.1,140.1 L301.1,140.1 L303.1,140.2 L305.2,140.2 L307.2,140.3 L309.2,140.3 L311.2,140.4 L313.3,140.5 L315.3,140.5 L317.3,140.6 L319.3,140.7 L321.4,140.7 L323.4,140.8 L325.4,140.9 L327.4,140.9 L329.5,141.0 L331.5,141.1 L333.5,141.2 L335.5,141.2 L337.6,141.3 L339.6,141.4 L341.6,141.4 L343.6,141.5 L345.7,141.6 L347.7,141.6 L349.7,141.7 L351.7,141.8 L353.8,141.8 L355.8,141.9 L357.8,141.9 L359.8,142.0 L361.9,142.0 L363.9,142.1 L365.9,142.1 L367.9,142.1 L370.0,142.2 L372.0,142.2 L374.0,142.2 L376.0,142.3 L378.1,142.3 L380.1,142.3 L382.1,142.4 L384.1,142.4 L386.2,142.4 L388.2,142.4 L390.2,142.5 L392.2,142.5 L394.3,142.5 L396.3,142.5 L398.3,142.6 L400.3,142.6 L402.4,142.6 L404.4,142.6 L406.4,142.7" stroke="#3b36a8" stroke-opacity="0.8" stroke-width="0.95"/><path d="M182.1,130.5 L184.1,130.5 L186.1,130.4 L188.1,130.4 L190.2,130.4 L192.2,130.4 L194.2,130.3 L196.2,130.3 L198.2,130.3 L200.3,130.3 L202.3,130.3 L204.3,130.3 L206.3,130.2 L208.4,130.2 L210.4,130.2 L212.4,130.2 L214.4,130.2 L216.4,130.2 L218.5,130.2 L220.5,130.2 L222.5,130.2 L224.5,130.2 L226.5,130.2 L228.6,130.2 L230.6,130.2 L232.6,130.2 L234.6,130.2 L236.6,130.2 L238.7,130.2 L240.7,130.3 L242.7,130.3 L244.7,130.4 L246.7,130.5 L248.8,130.6 L250.8,130.7 L252.8,130.9 L254.8,131.0 L256.9,131.1 L258.9,131.3 L260.9,131.4 L262.9,131.5 L264.9,131.6 L267.0,131.7 L269.0,131.8 L271.0,131.9 L273.0,132.0 L275.0,132.0 L277.1,132.1 L279.1,132.1 L281.1,132.1 L283.1,132.0 L285.1,132.0 L287.2,132.0 L289.2,132.0 L291.2,131.9 L293.2,131.9 L295.3,131.9 L297.3,131.8 L299.3,131.8 L301.3,131.7 L303.3,131.7 L305.4,131.6 L307.4,131.5 L309.4,131.5 L311.4,131.4 L313.4,131.3 L315.5,131.3 L317.5,131.2 L319.5,131.1 L321.5,131.1 L323.5,131.0 L325.6,130.9 L327.6,130.9 L329.6,130.8 L331.6,130.7 L333.6,130.7 L335.7,130.6 L337.7,130.5 L339.7,130.5 L341.7,130.4 L343.8,130.3 L345.8,130.3 L347.8,130.2 L349.8,130.2 L351.8,130.2 L353.9,130.1 L355.9,130.1 L357.9,130.1 L359.9,130.1 L361.9,130.0 L364.0,130.0 L366.0,130.0 L368.0,130.0 L370.0,130.0 L372.0,130.0 L374.1,130.1 L376.1,130.1 L378.1,130.1 L380.1,130.1 L382.1,130.2 L384.2,130.2 L386.2,130.3 L388.2,130.3 L390.2,130.4 L392.3,130.4 L394.3,130.5 L396.3,130.5 L398.3,130.6 L400.3,130.6 L402.4,130.7 L404.4,130.8 L406.4,130.8" stroke-width="1.1"/><path d="M193.4,128.4 L195.5,128.4 L197.6,128.3 L199.7,128.3 L201.7,128.2 L203.8,128.1 L205.9,128.0 L208.0,127.9 L210.0,127.8 L212.1,127.7 L214.2,127.5 L216.3,127.3 L218.4,127.1 L220.4,126.9 L222.5,126.7 L224.6,126.5 L226.7,126.3 L228.7,126.2 L230.8,126.1 L232.9,126.0 L235.0,126.0 L237.0,126.0 L239.1,126.0 L241.2,126.0 L243.3,126.0 L245.4,126.0 L247.4,126.0 L249.5,126.0 L251.6,126.0 L253.7,126.0 L255.7,126.0 L257.8,126.0 L259.9,126.0 L262.0,126.0 L264.1,126.0 L266.1,126.0 L268.2,126.0 L270.3,126.0 L272.4,126.0 L274.4,126.0 L276.5,126.0 L278.6,126.0" stroke-width="1.1"/><path d="M330.9,130.8 L333.0,130.7 L335.1,130.5 L337.2,130.4 L339.3,130.2 L341.4,130.1 L343.5,130.0 L345.6,129.9 L347.7,129.8 L349.8,129.7 L351.9,129.6 L354.0,129.6 L356.1,129.5 L358.2,129.5 L360.3,129.4 L362.4,129.4 L364.5,129.4 L366.6,129.4 L368.7,129.4 L370.8,129.4 L372.9,129.4 L374.9,129.4 L377.0,129.5 L379.1,129.5 L381.2,129.6 L383.3,129.6 L385.4,129.7 L387.5,129.8 L389.6,129.8 L391.7,129.9 L393.8,130.0 L395.9,130.1 L398.0,130.3 L400.1,130.4 L402.2,130.5 L404.3,130.7 L406.4,130.8" stroke-width="1.1"/></g><line x1="235.0" y1="20.0" x2="235.0" y2="183.0" stroke="#8ee88e" stroke-width="1"/><line x1="278.6" y1="20.0" x2="278.6" y2="183.0" stroke="#6a6ae8" stroke-width="1"/><line x1="365.8" y1="20.0" x2="365.8" y2="183.0" stroke="#7ee8f0" stroke-width="1"/><line x1="159.4" y1="183.0" x2="162.4" y2="183.0" stroke="#333" stroke-width="0.8"/><line x1="406.4" y1="183.0" x2="403.4" y2="183.0" stroke="#444" stroke-width="0.8"/><line x1="159.4" y1="174.8" x2="161.4" y2="174.8" stroke="#333" stroke-width="0.8"/><line x1="406.4" y1="174.8" x2="404.4" y2="174.8" stroke="#444" stroke-width="0.8"/><line x1="159.4" y1="166.7" x2="162.4" y2="166.7" stroke="#333" stroke-width="0.8"/><line x1="406.4" y1="166.7" x2="403.4" y2="166.7" stroke="#444" stroke-width="0.8"/><line x1="159.4" y1="158.6" x2="161.4" y2="158.6" stroke="#333" stroke-width="0.8"/><line x1="406.4" y1="158.6" x2="404.4" y2="158.6" stroke="#444" stroke-width="0.8"/><line x1="159.4" y1="150.4" x2="162.4" y2="150.4" stroke="#333" stroke-width="0.8"/><line x1="406.4" y1="150.4" x2="403.4" y2="150.4" stroke="#444" stroke-width="0.8"/><line x1="159.4" y1="142.2" x2="161.4" y2="142.2" stroke="#333" stroke-width="0.8"/><line x1="406.4" y1="142.2" x2="404.4" y2="142.2" stroke="#444" stroke-width="0.8"/><line x1="159.4" y1="134.1" x2="162.4" y2="134.1" stroke="#333" stroke-width="0.8"/><line x1="406.4" y1="134.1" x2="403.4" y2="134.1" stroke="#444" stroke-width="0.8"/><line x1="159.4" y1="126.0" x2="161.4" y2="126.0" stroke="#333" stroke-width="0.8"/><line x1="406.4" y1="126.0" x2="404.4" y2="126.0" stroke="#444" stroke-width="0.8"/><line x1="159.4" y1="117.8" x2="162.4" y2="117.8" stroke="#333" stroke-width="0.8"/><line x1="406.4" y1="117.8" x2="403.4" y2="117.8" stroke="#444" stroke-width="0.8"/><line x1="159.4" y1="109.7" x2="161.4" y2="109.7" stroke="#333" stroke-width="0.8"/><line x1="406.4" y1="109.7" x2="404.4" y2="109.7" stroke="#444" stroke-width="0.8"/><line x1="159.4" y1="101.5" x2="162.4" y2="101.5" stroke="#333" stroke-width="0.8"/><line x1="406.4" y1="101.5" x2="403.4" y2="101.5" stroke="#444" stroke-width="0.8"/><line x1="159.4" y1="93.3" x2="161.4" y2="93.3" stroke="#333" stroke-width="0.8"/><line x1="406.4" y1="93.3" x2="404.4" y2="93.3" stroke="#444" stroke-width="0.8"/><line x1="159.4" y1="85.2" x2="162.4" y2="85.2" stroke="#333" stroke-width="0.8"/><line x1="406.4" y1="85.2" x2="403.4" y2="85.2" stroke="#444" stroke-width="0.8"/><line x1="159.4" y1="77.0" x2="161.4" y2="77.0" stroke="#333" stroke-width="0.8"/><line x1="406.4" y1="77.0" x2="404.4" y2="77.0" stroke="#444" stroke-width="0.8"/><line x1="159.4" y1="68.9" x2="162.4" y2="68.9" stroke="#333" stroke-width="0.8"/><line x1="406.4" y1="68.9" x2="403.4" y2="68.9" stroke="#444" stroke-width="0.8"/><line x1="159.4" y1="60.8" x2="161.4" y2="60.8" stroke="#333" stroke-width="0.8"/><line x1="406.4" y1="60.8" x2="404.4" y2="60.8" stroke="#444" stroke-width="0.8"/><line x1="159.4" y1="52.6" x2="162.4" y2="52.6" stroke="#333" stroke-width="0.8"/><line x1="406.4" y1="52.6" x2="403.4" y2="52.6" stroke="#444" stroke-width="0.8"/><line x1="159.4" y1="44.5" x2="161.4" y2="44.5" stroke="#333" stroke-width="0.8"/><line x1="406.4" y1="44.5" x2="404.4" y2="44.5" stroke="#444" stroke-width="0.8"/><line x1="159.4" y1="36.3" x2="162.4" y2="36.3" stroke="#333" stroke-width="0.8"/><line x1="406.4" y1="36.3" x2="403.4" y2="36.3" stroke="#444" stroke-width="0.8"/><line x1="159.4" y1="28.1" x2="161.4" y2="28.1" stroke="#333" stroke-width="0.8"/><line x1="406.4" y1="28.1" x2="404.4" y2="28.1" stroke="#444" stroke-width="0.8"/><line x1="159.4" y1="20.0" x2="162.4" y2="20.0" stroke="#333" stroke-width="0.8"/><line x1="406.4" y1="20.0" x2="403.4" y2="20.0" stroke="#444" stroke-width="0.8"/><line x1="158.9" y1="20.0" x2="406.9" y2="20.0" stroke="#858585" stroke-width="1.4"/><line x1="158.9" y1="183.0" x2="406.9" y2="183.0" stroke="#7a7a7a" stroke-width="1.4"/><line x1="159.4" y1="20.0" x2="159.4" y2="183.0" stroke="#c03030" stroke-width="1"/><line x1="406.4" y1="20.0" x2="406.4" y2="183.0" stroke="#8a2a8a" stroke-width="1"/><text transform="translate(156.6,184.7) scale(0.86,1)" class="tl">-10</text><text transform="translate(156.6,168.4) scale(0.86,1)" class="tl">-8</text><text transform="translate(156.6,152.1) scale(0.86,1)" class="tl">-6</text><text transform="translate(156.6,135.8) scale(0.86,1)" class="tl">-4</text><text transform="translate(156.6,119.5) scale(0.86,1)" class="tl">-2</text><text transform="translate(156.6,103.2) scale(0.86,1)" class="tl">0</text><text transform="translate(156.6,86.9) scale(0.86,1)" class="tl">2</text><text transform="translate(156.6,70.6) scale(0.86,1)" class="tl">4</text><text transform="translate(156.6,54.3) scale(0.86,1)" class="tl">6</text><text transform="translate(156.6,38.0) scale(0.86,1)" class="tl">8</text><text transform="translate(156.6,21.7) scale(0.86,1)" class="tl">10</text><text x="163.9" y="189.2" class="kl">Γ</text><text x="236.5" y="189.0" class="kl">M</text><text x="283.0" y="189.2" class="kl">K</text><text x="368.5" y="190.2" class="kl">Γ</text><text x="405.0" y="190.6" class="kl">A</text><line x1="98.9" y1="216.1" x2="98.9" y2="379.1" stroke="#ff40ff" stroke-width="1"/><line x1="142.5" y1="216.1" x2="142.5" y2="379.1" stroke="#3434a4" stroke-width="1"/><line x1="229.7" y1="216.1" x2="229.7" y2="379.1" stroke="#109010" stroke-width="1"/><line x1="23.3" y1="297.4" x2="270.3" y2="297.4" stroke="#b0b0b0" stroke-width="0.8"/><polygon points="23.3,300.0 98.9,302.0 142.5,303.3 186.1,302.0 229.7,301.1 270.3,302.0 270.3,348.2 23.3,348.2" fill="#000"/><line x1="101.0" y1="303.5" x2="153.0" y2="303.5" stroke="#fff" stroke-opacity="0.71" stroke-width="0.9"/><line x1="153.0" y1="303.5" x2="222.0" y2="303.5" stroke="#fff" stroke-opacity="0.74" stroke-width="0.9"/><line x1="241.2" y1="303.5" x2="270.3" y2="303.5" stroke="#fff" stroke-opacity="1.00" stroke-width="0.9"/><line x1="23.3" y1="305.5" x2="65.0" y2="305.5" stroke="#fff" stroke-opacity="0.45" stroke-width="0.8"/><line x1="23.3" y1="308.5" x2="103.2" y2="308.5" stroke="#fff" stroke-opacity="0.38" stroke-width="0.9"/><line x1="103.2" y1="308.5" x2="157.2" y2="308.5" stroke="#fff" stroke-opacity="0.42" stroke-width="0.9"/><line x1="198.7" y1="308.5" x2="223.9" y2="308.5" stroke="#fff" stroke-opacity="0.62" stroke-width="0.9"/><line x1="259.3" y1="308.5" x2="270.3" y2="308.5" stroke="#fff" stroke-opacity="0.50" stroke-width="0.9"/><line x1="23.3" y1="311.5" x2="72.1" y2="311.5" stroke="#fff" stroke-opacity="0.90" stroke-width="0.9"/><line x1="72.1" y1="311.5" x2="123.5" y2="311.5" stroke="#fff" stroke-opacity="1.00" stroke-width="0.9"/><line x1="123.5" y1="311.5" x2="171.4" y2="311.5" stroke="#fff" stroke-opacity="0.96" stroke-width="0.9"/><line x1="171.4" y1="311.5" x2="201.9" y2="311.5" stroke="#fff" stroke-opacity="1.00" stroke-width="0.9"/><line x1="201.9" y1="311.5" x2="250.7" y2="311.5" stroke="#fff" stroke-opacity="0.61" stroke-width="0.9"/><line x1="250.7" y1="311.5" x2="270.3" y2="311.5" stroke="#fff" stroke-opacity="0.61" stroke-width="0.9"/><line x1="23.3" y1="315.5" x2="78.3" y2="315.5" stroke="#fff" stroke-opacity="0.63" stroke-width="0.9"/><line x1="78.3" y1="315.5" x2="134.1" y2="315.5" stroke="#fff" stroke-opacity="0.94" stroke-width="0.9"/><line x1="134.1" y1="315.5" x2="172.0" y2="315.5" stroke="#fff" stroke-opacity="0.97" stroke-width="0.9"/><line x1="172.0" y1="315.5" x2="188.5" y2="315.5" stroke="#fff" stroke-opacity="0.94" stroke-width="0.9"/><line x1="188.5" y1="315.5" x2="266.1" y2="315.5" stroke="#fff" stroke-opacity="0.83" stroke-width="0.9"/><line x1="266.1" y1="315.5" x2="270.3" y2="315.5" stroke="#fff" stroke-opacity="0.78" stroke-width="0.9"/><line x1="23.3" y1="318.5" x2="58.6" y2="318.5" stroke="#fff" stroke-opacity="0.54" stroke-width="0.9"/><line x1="58.6" y1="318.5" x2="93.1" y2="318.5" stroke="#fff" stroke-opacity="0.59" stroke-width="0.9"/><line x1="109.9" y1="318.5" x2="172.7" y2="318.5" stroke="#fff" stroke-opacity="0.43" stroke-width="0.9"/><line x1="172.7" y1="318.5" x2="239.9" y2="318.5" stroke="#fff" stroke-opacity="0.42" stroke-width="0.9"/><line x1="23.3" y1="320.5" x2="44.9" y2="320.5" stroke="#fff" stroke-opacity="0.77" stroke-width="0.9"/><line x1="44.9" y1="320.5" x2="114.1" y2="320.5" stroke="#fff" stroke-opacity="1.00" stroke-width="0.9"/><line x1="114.1" y1="320.5" x2="140.1" y2="320.5" stroke="#fff" stroke-opacity="0.93" stroke-width="0.9"/><line x1="140.1" y1="320.5" x2="212.6" y2="320.5" stroke="#fff" stroke-opacity="0.71" stroke-width="0.9"/><line x1="212.6" y1="320.5" x2="235.5" y2="320.5" stroke="#fff" stroke-opacity="0.70" stroke-width="0.9"/><line x1="23.3" y1="323.5" x2="50.2" y2="323.5" stroke="#fff" stroke-opacity="0.60" stroke-width="0.9"/><line x1="107.0" y1="323.5" x2="144.4" y2="323.5" stroke="#fff" stroke-opacity="0.45" stroke-width="0.9"/><line x1="144.4" y1="323.5" x2="211.0" y2="323.5" stroke="#fff" stroke-opacity="0.46" stroke-width="0.9"/><line x1="211.0" y1="323.5" x2="253.1" y2="323.5" stroke="#fff" stroke-opacity="0.48" stroke-width="0.9"/><line x1="253.1" y1="323.5" x2="270.3" y2="323.5" stroke="#fff" stroke-opacity="0.36" stroke-width="0.9"/><line x1="99.6" y1="325.5" x2="178.8" y2="325.5" stroke="#fff" stroke-opacity="1.00" stroke-width="0.9"/><line x1="178.8" y1="325.5" x2="254.0" y2="325.5" stroke="#fff" stroke-opacity="0.97" stroke-width="0.9"/><line x1="254.0" y1="325.5" x2="270.3" y2="325.5" stroke="#fff" stroke-opacity="0.86" stroke-width="0.9"/><line x1="23.3" y1="328.5" x2="57.1" y2="328.5" stroke="#fff" stroke-opacity="0.43" stroke-width="0.9"/><line x1="261.5" y1="328.5" x2="270.3" y2="328.5" stroke="#fff" stroke-opacity="0.58" stroke-width="0.9"/><line x1="23.3" y1="331.5" x2="49.5" y2="331.5" stroke="#fff" stroke-opacity="0.75" stroke-width="0.9"/><line x1="174.6" y1="331.5" x2="211.8" y2="331.5" stroke="#fff" stroke-opacity="0.82" stroke-width="0.9"/><line x1="257.8" y1="331.5" x2="270.3" y2="331.5" stroke="#fff" stroke-opacity="0.69" stroke-width="0.9"/><line x1="23.3" y1="342.5" x2="91.4" y2="342.5" stroke="#fff" stroke-opacity="0.50" stroke-width="0.9"/><line x1="166.3" y1="342.5" x2="234.8" y2="342.5" stroke="#fff" stroke-opacity="0.46" stroke-width="0.9"/><line x1="234.8" y1="342.5" x2="270.3" y2="342.5" stroke="#fff" stroke-opacity="0.37" stroke-width="0.9"/><line x1="98.3" y1="345.5" x2="163.7" y2="345.5" stroke="#fff" stroke-opacity="0.31" stroke-width="0.9"/><line x1="163.7" y1="345.5" x2="187.0" y2="345.5" stroke="#fff" stroke-opacity="0.32" stroke-width="0.9"/><line x1="23.3" y1="301.5" x2="58.8" y2="301.5" stroke="#fff" stroke-opacity="0.48" stroke-width="0.8"/><line x1="115.9" y1="301.5" x2="154.3" y2="301.5" stroke="#fff" stroke-opacity="0.48" stroke-width="0.8"/><line x1="177.4" y1="301.5" x2="238.9" y2="301.5" stroke="#fff" stroke-opacity="0.40" stroke-width="0.8"/><line x1="238.9" y1="301.5" x2="265.5" y2="301.5" stroke="#fff" stroke-opacity="0.56" stroke-width="0.8"/><line x1="265.5" y1="301.5" x2="270.3" y2="301.5" stroke="#fff" stroke-opacity="0.62" stroke-width="0.8"/><line x1="269.7" y1="303.5" x2="270.3" y2="303.5" stroke="#fff" stroke-opacity="0.54" stroke-width="0.8"/><line x1="66.0" y1="304.5" x2="141.9" y2="304.5" stroke="#fff" stroke-opacity="0.81" stroke-width="0.8"/><line x1="141.9" y1="304.5" x2="208.3" y2="304.5" stroke="#fff" stroke-opacity="0.64" stroke-width="0.8"/><line x1="174.2" y1="306.5" x2="189.5" y2="306.5" stroke="#fff" stroke-opacity="0.84" stroke-width="0.8"/><line x1="189.5" y1="306.5" x2="207.4" y2="306.5" stroke="#fff" stroke-opacity="0.55" stroke-width="0.8"/><line x1="207.4" y1="306.5" x2="270.3" y2="306.5" stroke="#fff" stroke-opacity="0.52" stroke-width="0.8"/><line x1="23.3" y1="308.5" x2="93.0" y2="308.5" stroke="#fff" stroke-opacity="0.60" stroke-width="0.8"/><line x1="228.7" y1="308.5" x2="270.3" y2="308.5" stroke="#fff" stroke-opacity="0.58" stroke-width="0.8"/><line x1="93.5" y1="309.5" x2="169.2" y2="309.5" stroke="#fff" stroke-opacity="0.51" stroke-width="0.8"/><line x1="220.9" y1="309.5" x2="251.6" y2="309.5" stroke="#fff" stroke-opacity="0.48" stroke-width="0.8"/><line x1="23.3" y1="310.5" x2="63.9" y2="310.5" stroke="#fff" stroke-opacity="0.58" stroke-width="0.8"/><line x1="63.9" y1="310.5" x2="101.7" y2="310.5" stroke="#fff" stroke-opacity="0.46" stroke-width="0.8"/><line x1="128.7" y1="311.5" x2="153.4" y2="311.5" stroke="#fff" stroke-opacity="0.71" stroke-width="0.8"/><line x1="23.3" y1="313.5" x2="50.4" y2="313.5" stroke="#fff" stroke-opacity="0.26" stroke-width="0.8"/><line x1="50.4" y1="313.5" x2="103.5" y2="313.5" stroke="#fff" stroke-opacity="0.26" stroke-width="0.8"/><line x1="239.5" y1="313.5" x2="270.3" y2="313.5" stroke="#fff" stroke-opacity="0.26" stroke-width="0.8"/><line x1="23.3" y1="315.5" x2="39.8" y2="315.5" stroke="#fff" stroke-opacity="0.56" stroke-width="0.8"/><line x1="39.8" y1="315.5" x2="66.0" y2="315.5" stroke="#fff" stroke-opacity="0.54" stroke-width="0.8"/><line x1="66.0" y1="315.5" x2="131.3" y2="315.5" stroke="#fff" stroke-opacity="0.78" stroke-width="0.8"/><line x1="222.9" y1="315.5" x2="270.3" y2="315.5" stroke="#fff" stroke-opacity="0.60" stroke-width="0.8"/><line x1="203.6" y1="316.5" x2="233.5" y2="316.5" stroke="#fff" stroke-opacity="0.78" stroke-width="0.8"/><line x1="23.3" y1="318.5" x2="93.8" y2="318.5" stroke="#fff" stroke-opacity="0.40" stroke-width="0.8"/><line x1="93.8" y1="318.5" x2="125.6" y2="318.5" stroke="#fff" stroke-opacity="0.55" stroke-width="0.8"/><line x1="228.0" y1="318.5" x2="263.4" y2="318.5" stroke="#fff" stroke-opacity="0.55" stroke-width="0.8"/><line x1="263.4" y1="318.5" x2="270.3" y2="318.5" stroke="#fff" stroke-opacity="0.58" stroke-width="0.8"/><line x1="110.0" y1="319.5" x2="125.4" y2="319.5" stroke="#fff" stroke-opacity="0.33" stroke-width="0.8"/><line x1="125.4" y1="319.5" x2="172.0" y2="319.5" stroke="#fff" stroke-opacity="0.36" stroke-width="0.8"/><line x1="249.1" y1="319.5" x2="270.3" y2="319.5" stroke="#fff" stroke-opacity="0.29" stroke-width="0.8"/><line x1="23.3" y1="320.5" x2="81.6" y2="320.5" stroke="#fff" stroke-opacity="0.87" stroke-width="0.8"/><line x1="81.6" y1="320.5" x2="155.6" y2="320.5" stroke="#fff" stroke-opacity="0.89" stroke-width="0.8"/><line x1="194.9" y1="320.5" x2="259.2" y2="320.5" stroke="#fff" stroke-opacity="0.78" stroke-width="0.8"/><line x1="133.0" y1="322.5" x2="182.9" y2="322.5" stroke="#fff" stroke-opacity="0.42" stroke-width="0.8"/><line x1="50.1" y1="323.5" x2="106.1" y2="323.5" stroke="#fff" stroke-opacity="0.55" stroke-width="0.8"/><line x1="106.1" y1="323.5" x2="163.7" y2="323.5" stroke="#fff" stroke-opacity="0.56" stroke-width="0.8"/><line x1="163.7" y1="323.5" x2="187.9" y2="323.5" stroke="#fff" stroke-opacity="0.50" stroke-width="0.8"/><line x1="241.8" y1="323.5" x2="270.3" y2="323.5" stroke="#fff" stroke-opacity="0.40" stroke-width="0.8"/><line x1="23.3" y1="325.5" x2="49.8" y2="325.5" stroke="#fff" stroke-opacity="0.77" stroke-width="0.8"/><line x1="113.8" y1="325.5" x2="176.9" y2="325.5" stroke="#fff" stroke-opacity="0.59" stroke-width="0.8"/><line x1="265.6" y1="325.5" x2="270.3" y2="325.5" stroke="#fff" stroke-opacity="0.64" stroke-width="0.8"/><line x1="111.4" y1="327.5" x2="133.7" y2="327.5" stroke="#fff" stroke-opacity="0.51" stroke-width="0.8"/><line x1="156.0" y1="327.5" x2="218.3" y2="327.5" stroke="#fff" stroke-opacity="0.54" stroke-width="0.8"/><line x1="23.3" y1="328.5" x2="76.8" y2="328.5" stroke="#fff" stroke-opacity="0.34" stroke-width="0.8"/><line x1="76.8" y1="328.5" x2="104.4" y2="328.5" stroke="#fff" stroke-opacity="0.38" stroke-width="0.8"/><line x1="104.4" y1="328.5" x2="132.5" y2="328.5" stroke="#fff" stroke-opacity="0.43" stroke-width="0.8"/><line x1="222.4" y1="328.5" x2="262.3" y2="328.5" stroke="#fff" stroke-opacity="0.38" stroke-width="0.8"/><rect x="23.3" y="335.0" width="247" height="2.8" fill="#fff"/><g fill="none" stroke="#000" stroke-width="0.95" clip-path="url(#clipb)"><path d="M23.3,280.9 L25.4,280.8 L27.5,280.7 L29.6,280.5 L31.7,280.3 L33.8,280.1 L35.9,279.9 L38.0,279.6 L40.1,279.3 L42.2,279.0 L44.3,278.7 L46.4,278.4 L48.5,278.0 L50.6,277.6 L52.7,277.2 L54.8,276.8 L56.9,276.4 L59.0,276.0 L61.1,275.6 L63.2,275.1 L65.3,274.6 L67.4,274.0 L69.5,273.4 L71.6,272.7 L73.7,272.0 L75.8,271.3 L77.9,270.6 L80.0,269.9 L82.1,269.2 L84.2,268.5 L86.3,267.7 L88.4,267.0 L90.5,266.2 L92.6,265.5 L94.7,264.7 L96.8,263.9 L98.9,263.0"/><path d="M23.3,260.9 L25.4,260.8 L27.5,260.6 L29.6,260.4 L31.7,260.3 L33.8,260.1 L35.9,259.9 L38.0,259.7 L40.1,259.4 L42.2,259.2 L44.3,259.0 L46.4,258.7 L48.5,258.5 L50.6,258.2 L52.7,258.0 L54.8,257.7 L56.9,257.4 L59.0,257.1 L61.1,256.9 L63.2,256.6 L65.3,256.3 L67.4,255.9 L69.5,255.6 L71.6,255.3 L73.7,254.9 L75.8,254.5 L77.9,254.2 L80.0,253.8 L82.1,253.4 L84.2,253.0 L86.3,252.5 L88.4,252.1 L90.5,251.7 L92.6,251.2 L94.7,250.8 L96.8,250.3 L98.9,249.8"/><path d="M23.3,240.1 L25.4,240.2 L27.5,240.4 L29.6,240.6 L31.7,240.8 L33.8,241.1 L35.9,241.4 L38.0,241.7 L40.1,242.1 L42.2,242.5 L44.3,243.0 L46.4,243.7 L48.5,244.3 L50.6,245.0 L52.7,245.8 L54.8,246.5 L56.9,247.3 L59.0,248.1 L61.1,248.9 L63.2,249.7 L65.3,250.5 L67.4,251.4 L69.5,252.4 L71.6,253.3 L73.7,254.3 L75.8,255.2 L77.9,256.0 L80.0,256.9 L82.1,257.6 L84.2,258.4 L86.3,259.1 L88.4,259.8 L90.5,260.5 L92.6,261.2 L94.7,261.8 L96.8,262.4 L98.9,263.0"/><path d="M23.3,240.6 L25.4,240.8 L27.5,241.0 L29.6,241.2 L31.7,241.5 L33.8,241.7 L35.9,241.9 L38.0,242.2 L40.1,242.4 L42.2,242.6 L44.3,242.9 L46.4,243.1 L48.5,243.4 L50.6,243.6 L52.7,243.9 L54.8,244.1 L56.9,244.4 L59.0,244.6 L61.1,244.9 L63.2,245.1 L65.3,245.4 L67.4,245.7 L69.5,245.9 L71.6,246.2 L73.7,246.5 L75.8,246.7 L77.9,247.0 L80.0,247.3 L82.1,247.5 L84.2,247.8 L86.3,248.1 L88.4,248.4 L90.5,248.7 L92.6,249.0 L94.7,249.3 L96.8,249.5 L98.9,249.8"/><path d="M23.3,240.6 L26.6,240.6 L29.9,240.6 L33.2,240.6 L36.4,240.6 L39.7,240.6 L43.0,240.6 L46.3,240.6 L49.6,240.6 L52.9,240.6 L56.2,240.6 L59.5,240.6 L62.7,240.6 L66.0,240.6 L69.3,240.6 L72.6,240.6 L75.9,240.6 L79.2,240.6 L82.5,240.6 L85.8,240.6 L89.0,240.6 L92.3,240.6 L95.6,240.6 L98.9,240.6"/><path d="M23.3,239.3 L26.6,239.2 L29.9,239.1 L33.2,238.9 L36.4,238.8 L39.7,238.6 L43.0,238.4 L46.3,238.2 L49.6,237.9 L52.9,237.7 L56.2,237.5 L59.5,237.2 L62.7,237.0 L66.0,236.7 L69.3,236.5 L72.6,236.2 L75.9,236.0 L79.2,235.8 L82.5,235.6 L85.8,235.4 L89.0,235.2 L92.3,235.1 L95.6,234.9 L98.9,234.8"/><path d="M23.3,242.6 L25.4,242.7 L27.5,242.7 L29.6,242.8 L31.7,242.8 L33.8,242.8 L35.9,242.9 L38.0,242.9 L40.1,242.9 L42.2,242.9 L44.3,243.0 L46.4,243.0 L48.5,243.0 L50.6,243.0 L52.7,243.0 L54.8,243.0 L56.9,243.0 L59.0,243.0 L61.1,243.0 L63.2,243.0 L65.3,243.0 L67.4,242.9 L69.5,242.8 L71.6,242.7 L73.7,242.6 L75.8,242.5 L77.9,242.4 L80.0,242.3 L82.1,242.1 L84.2,241.9 L86.3,241.8 L88.4,241.6 L90.5,241.4 L92.6,241.2 L94.7,241.0 L96.8,240.8 L98.9,240.6"/><path d="M23.3,231.4 L25.4,231.4 L27.5,231.3 L29.6,231.2 L31.7,231.1 L33.8,231.0 L35.9,230.8 L38.0,230.7 L40.1,230.5 L42.2,230.3 L44.3,230.0 L46.4,229.7 L48.5,229.4 L50.6,229.1 L52.7,228.7 L54.8,228.4 L56.9,227.9 L59.0,227.4 L61.1,226.8 L63.2,226.2 L65.3,225.6 L67.4,225.0 L69.5,224.4 L71.6,223.7 L73.7,223.0 L75.8,222.4 L77.9,221.7 L80.0,221.1 L82.1,220.5 L84.2,219.9 L86.3,219.3 L88.4,218.8 L90.5,218.3 L92.6,218.1 L94.7,217.9 L96.8,217.8 L98.9,217.7"/><path d="M23.3,231.4 L25.4,231.4 L27.5,231.3 L29.6,231.3 L31.7,231.2 L33.8,231.1 L35.9,231.0 L38.0,230.9 L40.1,230.8 L42.2,230.6 L44.3,230.5 L46.4,230.3 L48.5,230.0 L50.6,229.8 L52.7,229.6 L54.8,229.2 L56.9,228.8 L59.0,228.3 L61.1,227.8 L63.2,227.2 L65.3,226.7 L67.4,226.2 L69.5,225.8 L71.6,225.3 L73.7,224.9 L75.8,224.5 L77.9,224.1 L80.0,223.7 L82.1,223.3 L84.2,223.0 L86.3,222.7 L88.4,222.4 L90.5,222.0 L92.6,221.8 L94.7,221.5 L96.8,221.2 L98.9,221.0"/><path d="M23.3,239.7 L25.4,239.7 L27.5,239.6 L29.6,239.6 L31.7,239.5 L33.8,239.4 L35.9,239.2 L38.0,239.1 L40.1,239.0 L42.2,238.8 L44.3,238.6 L46.4,238.5 L48.5,238.3 L50.6,238.1 L52.7,237.9 L54.8,237.6 L56.9,237.4 L59.0,237.1 L61.1,236.8 L63.2,236.5 L65.3,236.1 L67.4,235.8 L69.5,235.4 L71.6,235.0 L73.7,234.6 L75.8,234.2 L77.9,233.8 L80.0,233.3 L82.1,232.8 L84.2,232.3 L86.3,231.8 L88.4,231.3 L90.5,230.8 L92.6,230.2 L94.7,229.7 L96.8,229.1 L98.9,228.5"/><path d="M23.3,231.4 L25.4,231.2 L27.5,230.9 L29.6,230.6 L31.7,230.4 L33.8,230.2 L35.9,229.9 L38.0,229.7 L40.1,229.5 L42.2,229.3 L44.3,229.1 L46.4,228.9 L48.5,228.8 L50.6,228.6 L52.7,228.5 L54.8,228.4 L56.9,228.4 L59.0,228.3 L61.1,228.3 L63.2,228.3 L65.3,228.3 L67.4,228.3 L69.5,228.3 L71.6,228.3 L73.7,228.3 L75.8,228.3 L77.9,228.3 L80.0,228.3 L82.1,228.4 L84.2,228.4 L86.3,228.4 L88.4,228.4 L90.5,228.4 L92.6,228.4 L94.7,228.4 L96.8,228.5 L98.9,228.5"/><path d="M23.3,224.4 L25.4,224.4 L27.5,224.4 L29.6,224.4 L31.7,224.4 L33.8,224.4 L35.9,224.5 L38.0,224.5 L40.1,224.5 L42.2,224.5 L44.3,224.5 L46.4,224.6 L48.5,224.6 L50.6,224.6 L52.7,224.6 L54.8,224.7 L56.9,224.7 L59.0,224.8 L61.1,224.8 L63.2,224.9 L65.3,225.0 L67.4,225.1 L69.5,225.2 L71.6,225.3 L73.7,225.5 L75.8,225.6 L77.9,225.7 L80.0,225.9 L82.1,226.0 L84.2,226.2 L86.3,226.4 L88.4,226.6 L90.5,226.7 L92.6,226.9 L94.7,227.1 L96.8,227.3 L98.9,227.5"/><path d="M23.3,220.6 L26.6,220.6 L29.9,220.6 L33.2,220.6 L36.4,220.6 L39.7,220.6 L43.0,220.6 L46.3,220.6 L49.6,220.6 L52.9,220.6 L56.2,220.6 L59.5,220.6 L62.7,220.6 L66.0,220.6 L69.3,220.6 L72.6,220.6 L75.9,220.6 L79.2,220.6 L82.5,220.6 L85.8,220.6 L89.0,220.6 L92.3,220.6 L95.6,220.6 L98.9,220.6"/><path d="M23.3,217.7 L26.6,217.7 L29.9,217.7 L33.2,217.7 L36.4,217.6 L39.7,217.6 L43.0,217.5 L46.3,217.5 L49.6,217.5 L52.9,217.4 L56.2,217.4 L59.5,217.3 L62.7,217.3 L66.0,217.2 L69.3,217.2 L72.6,217.1 L75.9,217.1 L79.2,217.0 L82.5,217.0 L85.8,216.9 L89.0,216.9 L92.3,216.9 L95.6,216.9 L98.9,216.8"/><path d="M23.3,216.3 L26.6,216.3 L29.9,216.3 L33.2,216.3 L36.4,216.3 L39.7,216.3 L43.0,216.3 L46.3,216.3 L49.6,216.3 L52.9,216.3 L56.2,216.3 L59.5,216.3 L62.7,216.3 L66.0,216.3 L69.3,216.3 L72.6,216.3 L75.9,216.3 L79.2,216.3 L82.5,216.3 L85.8,216.3 L89.0,216.3 L92.3,216.3 L95.6,216.3 L98.9,216.3"/><path d="M98.9,263.0 L100.8,262.9 L102.7,262.8 L104.6,262.7 L106.5,262.5 L108.4,262.3 L110.3,262.1 L112.2,261.9 L114.1,261.7 L116.0,261.5 L117.9,261.2 L119.8,261.0 L121.6,260.8 L123.5,260.5 L125.4,260.3 L127.3,260.1 L129.2,259.8 L131.1,259.6 L133.0,259.4 L134.9,259.3 L136.8,259.1 L138.7,258.9 L140.6,258.8 L142.5,258.7"/><path d="M98.9,249.8 L100.8,249.8 L102.7,249.7 L104.6,249.6 L106.5,249.6 L108.4,249.5 L110.3,249.3 L112.2,249.2 L114.1,249.1 L116.0,249.0 L117.9,248.9 L119.8,248.7 L121.6,248.6 L123.5,248.5 L125.4,248.3 L127.3,248.2 L129.2,248.1 L131.1,248.0 L133.0,247.9 L134.9,247.8 L136.8,247.7 L138.7,247.6 L140.6,247.5 L142.5,247.5"/><path d="M98.9,240.6 L100.8,241.3 L102.7,242.1 L104.6,242.9 L106.5,243.6 L108.4,244.4 L110.3,245.2 L112.2,246.0 L114.1,246.8 L116.0,247.5 L117.9,248.3 L119.8,249.1 L121.6,249.9 L123.5,250.7 L125.4,251.5 L127.3,252.3 L129.2,253.1 L131.1,253.9 L133.0,254.7 L134.9,255.5 L136.8,256.3 L138.7,257.1 L140.6,257.9 L142.5,258.7"/><path d="M98.9,234.8 L100.8,235.4 L102.7,236.0 L104.6,236.6 L106.5,237.2 L108.4,237.7 L110.3,238.3 L112.2,238.9 L114.1,239.4 L116.0,240.0 L117.9,240.5 L119.8,241.1 L121.6,241.6 L123.5,242.2 L125.4,242.7 L127.3,243.3 L129.2,243.8 L131.1,244.3 L133.0,244.9 L134.9,245.4 L136.8,245.9 L138.7,246.4 L140.6,247.0 L142.5,247.5"/><path d="M98.9,228.5 L100.8,228.3 L102.7,228.2 L104.6,228.0 L106.5,227.9 L108.4,227.7 L110.3,227.5 L112.2,227.3 L114.1,227.1 L116.0,226.9 L117.9,226.6 L119.8,226.4 L121.6,226.2 L123.5,225.9 L125.4,225.7 L127.3,225.4 L129.2,225.1 L131.1,224.8 L133.0,224.5 L134.9,224.2 L136.8,223.8 L138.7,223.5 L140.6,223.1 L142.5,222.8"/><path d="M98.9,234.8 L100.8,234.4 L102.7,234.0 L104.6,233.6 L106.5,233.2 L108.4,232.7 L110.3,232.3 L112.2,231.8 L114.1,231.3 L116.0,230.8 L117.9,230.3 L119.8,229.8 L121.6,229.3 L123.5,228.8 L125.4,228.2 L127.3,227.7 L129.2,227.1 L131.1,226.5 L133.0,225.9 L134.9,225.3 L136.8,224.7 L138.7,224.1 L140.6,223.4 L142.5,222.8"/><path d="M98.9,240.6 L100.8,239.9 L102.7,239.2 L104.6,238.6 L106.5,237.9 L108.4,237.2 L110.3,236.5 L112.2,235.8 L114.1,235.0 L116.0,234.3 L117.9,233.5 L119.8,232.8 L121.6,232.0 L123.5,231.2 L125.4,230.4 L127.3,229.6 L129.2,228.8 L131.1,228.0 L133.0,227.2 L134.9,226.3 L136.8,225.4 L138.7,224.6 L140.6,223.7 L142.5,222.8"/><path d="M98.9,227.5 L100.8,227.4 L102.7,227.3 L104.6,227.1 L106.5,226.9 L108.4,226.7 L110.3,226.5 L112.2,226.3 L114.1,226.0 L116.0,225.8 L117.9,225.5 L119.8,225.3 L121.6,225.0 L123.5,224.8 L125.4,224.5 L127.3,224.2 L129.2,224.0 L131.1,223.8 L133.0,223.6 L134.9,223.4 L136.8,223.2 L138.7,223.0 L140.6,222.9 L142.5,222.8"/><path d="M98.9,220.6 L100.8,220.5 L102.7,220.4 L104.6,220.3 L106.5,220.3 L108.4,220.2 L110.3,220.2 L112.2,220.2 L114.1,220.2 L116.0,220.2 L117.9,220.2 L119.8,220.2 L121.6,220.2 L123.5,220.2 L125.4,220.3 L127.3,220.5 L129.2,220.7 L131.1,220.9 L133.0,221.2 L134.9,221.4 L136.8,221.8 L138.7,222.1 L140.6,222.4 L142.5,222.8"/><path d="M98.9,217.2 L100.8,217.2 L102.7,217.3 L104.6,217.3 L106.5,217.4 L108.4,217.5 L110.3,217.6 L112.2,217.7 L114.1,217.8 L116.0,217.9 L117.9,218.0 L119.8,218.1 L121.6,218.2 L123.5,218.3 L125.4,218.5 L127.3,218.6 L129.2,218.8 L131.1,219.0 L133.0,219.1 L134.9,219.3 L136.8,219.5 L138.7,219.7 L140.6,220.0 L142.5,220.2"/><path d="M98.9,216.8 L100.8,216.8 L102.7,216.8 L104.6,216.8 L106.5,216.8 L108.4,216.8 L110.3,216.9 L112.2,216.9 L114.1,216.9 L116.0,216.9 L117.9,216.9 L119.8,216.9 L121.6,216.9 L123.5,216.9 L125.4,216.9 L127.3,216.9 L129.2,216.9 L131.1,216.9 L133.0,216.9 L134.9,216.9 L136.8,216.9 L138.7,216.9 L140.6,216.9 L142.5,216.9"/><path d="M98.9,216.3 L100.8,216.3 L102.7,216.3 L104.6,216.2 L106.5,216.2 L108.4,216.2 L110.3,216.2 L112.2,216.2 L114.1,216.2 L116.0,216.2 L117.9,216.2 L119.8,216.2 L121.6,216.2 L123.5,216.2 L125.4,216.2 L127.3,216.2 L129.2,216.1 L131.1,216.1 L133.0,216.1 L134.9,216.1 L136.8,216.1 L138.7,216.1 L140.6,216.1 L142.5,216.1"/><path d="M98.9,231.9 L100.8,231.7 L102.7,231.4 L104.6,231.2 L106.5,230.9 L108.4,230.6 L110.3,230.3 L112.2,229.9 L114.1,229.6 L116.0,229.2 L117.9,228.9 L119.8,228.5 L121.6,228.1 L123.5,227.7 L125.4,227.3 L127.3,226.9 L129.2,226.4 L131.1,225.9 L133.0,225.5 L134.9,224.9 L136.8,224.4 L138.7,223.9 L140.6,223.3 L142.5,222.8"/><path d="M98.9,222.6 L100.8,222.4 L102.7,222.2 L104.6,222.1 L106.5,221.9 L108.4,221.8 L110.3,221.7 L112.2,221.6 L114.1,221.5 L116.0,221.5 L117.9,221.4 L119.8,221.4 L121.6,221.4 L123.5,221.4 L125.4,221.5 L127.3,221.5 L129.2,221.6 L131.1,221.7 L133.0,221.9 L134.9,222.0 L136.8,222.2 L138.7,222.4 L140.6,222.6 L142.5,222.8"/><path d="M142.5,258.7 L144.6,259.6 L146.7,260.4 L148.7,261.3 L150.8,262.1 L152.9,262.9 L155.0,263.7 L157.0,264.5 L159.1,265.2 L161.2,266.0 L163.3,266.7 L165.3,267.4 L167.4,268.1 L169.5,268.8 L171.6,269.5 L173.6,270.1 L175.7,270.7 L177.8,271.3 L179.9,271.9 L181.9,272.5 L184.0,273.0 L186.1,273.6 L188.2,274.1 L190.3,274.6 L192.3,275.2 L194.4,275.7 L196.5,276.2 L198.6,276.6 L200.6,277.1 L202.7,277.5 L204.8,277.9 L206.9,278.3 L208.9,278.6 L211.0,278.9 L213.1,279.2 L215.2,279.5 L217.2,279.8 L219.3,280.0 L221.4,280.3 L223.5,280.5 L225.5,280.7 L227.6,280.9 L229.7,281.1"/><path d="M142.5,247.5 L144.6,247.9 L146.7,248.2 L148.7,248.6 L150.8,249.0 L152.9,249.3 L155.0,249.7 L157.0,250.1 L159.1,250.4 L161.2,250.8 L163.3,251.1 L165.3,251.5 L167.4,251.9 L169.5,252.2 L171.6,252.5 L173.6,252.9 L175.7,253.2 L177.8,253.6 L179.9,253.9 L181.9,254.2 L184.0,254.6 L186.1,254.9 L188.2,255.2 L190.3,255.5 L192.3,255.8 L194.4,256.2 L196.5,256.5 L198.6,256.8 L200.6,257.1 L202.7,257.4 L204.8,257.7 L206.9,258.0 L208.9,258.3 L211.0,258.6 L213.1,258.9 L215.2,259.2 L217.2,259.5 L219.3,259.8 L221.4,260.1 L223.5,260.4 L225.5,260.7 L227.6,261.0 L229.7,261.3"/><path d="M142.5,258.7 L144.6,258.2 L146.7,257.7 L148.7,257.1 L150.8,256.6 L152.9,256.1 L155.0,255.6 L157.0,255.0 L159.1,254.5 L161.2,254.0 L163.3,253.4 L165.3,252.9 L167.4,252.4 L169.5,251.9 L171.6,251.3 L173.6,250.8 L175.7,250.3 L177.8,249.7 L179.9,249.2 L181.9,248.6 L184.0,248.1 L186.1,247.4 L188.2,246.8 L190.3,246.1 L192.3,245.4 L194.4,244.7 L196.5,244.0 L198.6,243.3 L200.6,242.7 L202.7,242.1 L204.8,241.6 L206.9,241.1 L208.9,240.8 L211.0,240.5 L213.1,240.3 L215.2,240.3 L217.2,240.3 L219.3,240.2 L221.4,240.2 L223.5,240.2 L225.5,240.2 L227.6,240.1 L229.7,240.1"/><path d="M142.5,247.5 L144.6,247.2 L146.7,246.9 L148.7,246.7 L150.8,246.4 L152.9,246.2 L155.0,245.9 L157.0,245.7 L159.1,245.4 L161.2,245.2 L163.3,244.9 L165.3,244.7 L167.4,244.5 L169.5,244.2 L171.6,244.0 L173.6,243.8 L175.7,243.6 L177.8,243.4 L179.9,243.2 L181.9,243.0 L184.0,242.8 L186.1,242.6 L188.2,242.4 L190.3,242.2 L192.3,242.0 L194.4,241.8 L196.5,241.6 L198.6,241.4 L200.6,241.2 L202.7,241.0 L204.8,240.9 L206.9,240.7 L208.9,240.6 L211.0,240.5 L213.1,240.4 L215.2,240.2 L217.2,240.2 L219.3,240.1 L221.4,240.0 L223.5,239.9 L225.5,239.8 L227.6,239.8 L229.7,239.7"/><path d="M142.5,222.8 L144.6,223.2 L146.7,223.5 L148.7,223.9 L150.8,224.4 L152.9,224.8 L155.0,225.2 L157.0,225.7 L159.1,226.1 L161.2,226.6 L163.3,227.1 L165.3,227.5 L167.4,228.0 L169.5,228.5 L171.6,229.1 L173.6,229.7 L175.7,230.3 L177.8,231.0 L179.9,231.6 L181.9,232.3 L184.0,232.9 L186.1,233.5 L188.2,234.1 L190.3,234.7 L192.3,235.2 L194.4,235.6 L196.5,236.0 L198.6,236.3 L200.6,236.7 L202.7,237.0 L204.8,237.3 L206.9,237.6 L208.9,237.9 L211.0,238.1 L213.1,238.3 L215.2,238.4 L217.2,238.5 L219.3,238.6 L221.4,238.7 L223.5,238.8 L225.5,238.9 L227.6,238.9 L229.7,238.9"/><path d="M142.5,222.8 L144.6,223.3 L146.7,223.7 L148.7,224.2 L150.8,224.7 L152.9,225.2 L155.0,225.7 L157.0,226.2 L159.1,226.7 L161.2,227.2 L163.3,227.8 L165.3,228.3 L167.4,228.8 L169.5,229.4 L171.6,230.0 L173.6,230.6 L175.7,231.3 L177.8,232.0 L179.9,232.7 L181.9,233.3 L184.0,234.0 L186.1,234.6 L188.2,235.2 L190.3,235.7 L192.3,236.1 L194.4,236.4 L196.5,236.7 L198.6,236.9 L200.6,237.1 L202.7,237.3 L204.8,237.4 L206.9,237.6 L208.9,237.7 L211.0,237.8 L213.1,237.9 L215.2,238.0 L217.2,238.1 L219.3,238.2 L221.4,238.3 L223.5,238.4 L225.5,238.4 L227.6,238.5 L229.7,238.5"/><path d="M142.5,221.4 L144.6,221.6 L146.7,221.9 L148.7,222.1 L150.8,222.4 L152.9,222.6 L155.0,222.8 L157.0,223.1 L159.1,223.3 L161.2,223.6 L163.3,223.8 L165.3,224.1 L167.4,224.3 L169.5,224.6 L171.6,224.9 L173.6,225.1 L175.7,225.4 L177.8,225.6 L179.9,225.9 L181.9,226.2 L184.0,226.4 L186.1,226.7 L188.2,227.0 L190.3,227.3 L192.3,227.6 L194.4,227.9 L196.5,228.3 L198.6,228.7 L200.6,229.0 L202.7,229.4 L204.8,229.7 L206.9,230.0 L208.9,230.3 L211.0,230.6 L213.1,230.8 L215.2,231.1 L217.2,231.2 L219.3,231.4 L221.4,231.4 L223.5,231.5 L225.5,231.5 L227.6,231.6 L229.7,231.6"/><path d="M142.5,216.9 L144.6,216.9 L146.7,217.0 L148.7,217.1 L150.8,217.2 L152.9,217.3 L155.0,217.4 L157.0,217.5 L159.1,217.7 L161.2,217.8 L163.3,218.0 L165.3,218.3 L167.4,218.6 L169.5,219.0 L171.6,219.4 L173.6,219.8 L175.7,220.2 L177.8,220.7 L179.9,221.1 L181.9,221.5 L184.0,221.9 L186.1,222.3 L188.2,222.6 L190.3,223.0 L192.3,223.2 L194.4,223.4 L196.5,223.6 L198.6,223.7 L200.6,223.8 L202.7,224.0 L204.8,224.1 L206.9,224.3 L208.9,224.4 L211.0,224.5 L213.1,224.6 L215.2,224.7 L217.2,224.8 L219.3,224.9 L221.4,224.9 L223.5,225.0 L225.5,225.0 L227.6,225.1 L229.7,225.1"/><path d="M142.5,216.9 L146.3,217.0 L150.1,217.0 L153.9,217.1 L157.7,217.2 L161.5,217.3 L165.2,217.4 L169.0,217.5 L172.8,217.6 L176.6,217.7 L180.4,217.8 L184.2,217.9 L188.0,218.0 L191.8,218.2 L195.6,218.3 L199.4,218.4 L203.2,218.5 L207.0,218.6 L210.7,218.7 L214.5,218.8 L218.3,218.9 L222.1,218.9 L225.9,219.0 L229.7,219.0"/><path d="M142.5,216.1 L146.3,216.1 L150.1,216.1 L153.9,216.1 L157.7,216.1 L161.5,216.2 L165.2,216.2 L169.0,216.2 L172.8,216.2 L176.6,216.2 L180.4,216.2 L184.2,216.3 L188.0,216.3 L191.8,216.3 L195.6,216.3 L199.4,216.3 L203.2,216.3 L207.0,216.4 L210.7,216.4 L214.5,216.4 L218.3,216.4 L222.1,216.4 L225.9,216.4 L229.7,216.4"/><path d="M142.5,222.8 L144.6,222.9 L146.7,223.1 L148.7,223.2 L150.8,223.4 L152.9,223.5 L155.0,223.7 L157.0,223.9 L159.1,224.1 L161.2,224.2 L163.3,224.4 L165.3,224.6 L167.4,224.8 L169.5,225.0 L171.6,225.3 L173.6,225.5 L175.7,225.7 L177.8,225.9 L179.9,226.2 L181.9,226.5 L184.0,226.7 L186.1,227.1 L188.2,227.4 L190.3,227.7 L192.3,228.1 L194.4,228.4 L196.5,228.8 L198.6,229.1 L200.6,229.4 L202.7,229.7 L204.8,230.0 L206.9,230.3 L208.9,230.5 L211.0,230.7 L213.1,230.8 L215.2,231.0 L217.2,231.1 L219.3,231.2 L221.4,231.3 L223.5,231.4 L225.5,231.5 L227.6,231.5 L229.7,231.6"/><path d="M142.5,222.8 L144.6,222.6 L146.7,222.5 L148.7,222.3 L150.8,222.2 L152.9,222.0 L155.0,221.9 L157.0,221.7 L159.1,221.6 L161.2,221.5 L163.3,221.3 L165.3,221.2 L167.4,221.1 L169.5,221.0 L171.6,220.8 L173.6,220.7 L175.7,220.6 L177.8,220.5 L179.9,220.4 L181.9,220.3 L184.0,220.3 L186.1,220.2 L188.2,220.1 L190.3,220.0 L192.3,220.0 L194.4,219.9 L196.5,219.8 L198.6,219.7 L200.6,219.7 L202.7,219.6 L204.8,219.5 L206.9,219.5 L208.9,219.4 L211.0,219.4 L213.1,219.3 L215.2,219.3 L217.2,219.2 L219.3,219.2 L221.4,219.1 L223.5,219.1 L225.5,219.1 L227.6,219.1 L229.7,219.0"/><path d="M229.7,281.1 L231.5,280.8 L233.2,280.6 L235.0,280.4 L236.8,280.1 L238.5,279.9 L240.3,279.6 L242.1,279.4 L243.8,279.1 L245.6,278.8 L247.4,278.5 L249.1,278.2 L250.9,277.9 L252.6,277.6 L254.4,277.2 L256.2,276.9 L257.9,276.5 L259.7,276.2 L261.5,275.8 L263.2,275.4 L265.0,275.0 L266.8,274.6 L268.5,274.1 L270.3,273.7"/><path d="M229.7,261.3 L231.5,261.5 L233.2,261.9 L235.0,262.3 L236.8,262.8 L238.5,263.3 L240.3,263.9 L242.1,264.5 L243.8,265.1 L245.6,265.8 L247.4,266.5 L249.1,267.1 L250.9,267.8 L252.6,268.5 L254.4,269.2 L256.2,269.9 L257.9,270.5 L259.7,271.1 L261.5,271.7 L263.2,272.2 L265.0,272.7 L266.8,273.1 L268.5,273.4 L270.3,273.7"/><path d="M229.7,261.3 L231.5,261.0 L233.2,260.6 L235.0,260.2 L236.8,259.7 L238.5,259.2 L240.3,258.6 L242.1,258.0 L243.8,257.4 L245.6,256.7 L247.4,256.0 L249.1,255.4 L250.9,254.7 L252.6,254.0 L254.4,253.3 L256.2,252.6 L257.9,252.0 L259.7,251.4 L261.5,250.8 L263.2,250.3 L265.0,249.8 L266.8,249.4 L268.5,249.1 L270.3,248.8"/><path d="M229.7,240.1 L231.5,240.3 L233.2,240.4 L235.0,240.6 L236.8,240.8 L238.5,241.1 L240.3,241.3 L242.1,241.6 L243.8,241.9 L245.6,242.2 L247.4,242.5 L249.1,242.8 L250.9,243.2 L252.6,243.5 L254.4,243.9 L256.2,244.4 L257.9,244.8 L259.7,245.3 L261.5,245.9 L263.2,246.4 L265.0,247.0 L266.8,247.6 L268.5,248.2 L270.3,248.8"/><path d="M229.7,238.9 L231.5,239.0 L233.2,239.1 L235.0,239.1 L236.8,239.2 L238.5,239.3 L240.3,239.5 L242.1,239.6 L243.8,239.7 L245.6,239.9 L247.4,240.0 L249.1,240.2 L250.9,240.3 L252.6,240.4 L254.4,240.6 L256.2,240.7 L257.9,240.9 L259.7,241.0 L261.5,241.1 L263.2,241.2 L265.0,241.3 L266.8,241.4 L268.5,241.5 L270.3,241.5"/><path d="M229.7,238.5 L231.5,238.6 L233.2,238.6 L235.0,238.7 L236.8,238.8 L238.5,238.9 L240.3,239.0 L242.1,239.1 L243.8,239.3 L245.6,239.4 L247.4,239.5 L249.1,239.7 L250.9,239.8 L252.6,239.9 L254.4,240.1 L256.2,240.2 L257.9,240.3 L259.7,240.4 L261.5,240.6 L263.2,240.7 L265.0,240.8 L266.8,240.8 L268.5,240.9 L270.3,241.0"/><path d="M229.7,231.6 L231.5,231.8 L233.2,232.1 L235.0,232.4 L236.8,232.7 L238.5,233.1 L240.3,233.6 L242.1,234.0 L243.8,234.5 L245.6,235.0 L247.4,235.5 L249.1,236.0 L250.9,236.5 L252.6,237.0 L254.4,237.6 L256.2,238.1 L257.9,238.5 L259.7,239.0 L261.5,239.4 L263.2,239.8 L265.0,240.2 L266.8,240.5 L268.5,240.7 L270.3,241.0"/><path d="M229.7,239.7 L231.5,239.6 L233.2,239.4 L235.0,239.3 L236.8,239.0 L238.5,238.8 L240.3,238.6 L242.1,238.3 L243.8,238.0 L245.6,237.7 L247.4,237.4 L249.1,237.1 L250.9,236.8 L252.6,236.5 L254.4,236.2 L256.2,235.9 L257.9,235.6 L259.7,235.3 L261.5,235.0 L263.2,234.8 L265.0,234.6 L266.8,234.4 L268.5,234.2 L270.3,234.1"/><path d="M229.7,225.1 L231.5,225.0 L233.2,224.9 L235.0,224.7 L236.8,224.6 L238.5,224.4 L240.3,224.3 L242.1,224.1 L243.8,223.9 L245.6,223.7 L247.4,223.5 L249.1,223.3 L250.9,223.1 L252.6,222.9 L254.4,222.7 L256.2,222.5 L257.9,222.3 L259.7,222.1 L261.5,221.9 L263.2,221.8 L265.0,221.6 L266.8,221.5 L268.5,221.4 L270.3,221.3"/><path d="M229.7,219.0 L231.5,219.2 L233.2,219.3 L235.0,219.5 L236.8,219.8 L238.5,220.0 L240.3,220.3 L242.1,220.6 L243.8,220.9 L245.6,221.2 L247.4,221.5 L249.1,221.9 L250.9,222.2 L252.6,222.5 L254.4,222.9 L256.2,223.2 L257.9,223.5 L259.7,223.8 L261.5,224.1 L263.2,224.3 L265.0,224.6 L266.8,224.8 L268.5,224.9 L270.3,225.1"/><path d="M229.7,216.4 L231.5,216.4 L233.2,216.5 L235.0,216.5 L236.8,216.5 L238.5,216.5 L240.3,216.5 L242.1,216.6 L243.8,216.6 L245.6,216.6 L247.4,216.6 L249.1,216.7 L250.9,216.7 L252.6,216.7 L254.4,216.7 L256.2,216.8 L257.9,216.8 L259.7,216.8 L261.5,216.8 L263.2,216.9 L265.0,216.9 L266.8,216.9 L268.5,216.9 L270.3,216.9"/><path d="M229.7,221.0 L231.5,220.9 L233.2,220.9 L235.0,220.8 L236.8,220.8 L238.5,220.7 L240.3,220.6 L242.1,220.5 L243.8,220.4 L245.6,220.3 L247.4,220.2 L249.1,220.1 L250.9,220.0 L252.6,219.8 L254.4,219.7 L256.2,219.6 L257.9,219.5 L259.7,219.4 L261.5,219.4 L263.2,219.3 L265.0,219.2 L266.8,219.1 L268.5,219.1 L270.3,219.0"/></g><line x1="98.9" y1="216.1" x2="98.9" y2="379.1" stroke="#ff40ff" stroke-width="1"/><line x1="142.5" y1="216.1" x2="142.5" y2="379.1" stroke="#3434a4" stroke-width="1"/><line x1="229.7" y1="216.1" x2="229.7" y2="379.1" stroke="#109010" stroke-width="1"/><line x1="23.3" y1="379.1" x2="20.3" y2="379.1" stroke="#333" stroke-width="0.8"/><line x1="23.3" y1="371.0" x2="21.3" y2="371.0" stroke="#333" stroke-width="0.8"/><line x1="23.3" y1="362.8" x2="20.3" y2="362.8" stroke="#333" stroke-width="0.8"/><line x1="23.3" y1="354.6" x2="21.3" y2="354.6" stroke="#333" stroke-width="0.8"/><line x1="23.3" y1="346.5" x2="20.3" y2="346.5" stroke="#333" stroke-width="0.8"/><line x1="23.3" y1="338.4" x2="21.3" y2="338.4" stroke="#333" stroke-width="0.8"/><line x1="23.3" y1="330.2" x2="20.3" y2="330.2" stroke="#333" stroke-width="0.8"/><line x1="23.3" y1="322.1" x2="21.3" y2="322.1" stroke="#333" stroke-width="0.8"/><line x1="23.3" y1="313.9" x2="20.3" y2="313.9" stroke="#333" stroke-width="0.8"/><line x1="23.3" y1="305.8" x2="21.3" y2="305.8" stroke="#333" stroke-width="0.8"/><line x1="23.3" y1="297.6" x2="20.3" y2="297.6" stroke="#333" stroke-width="0.8"/><line x1="23.3" y1="289.4" x2="21.3" y2="289.4" stroke="#333" stroke-width="0.8"/><line x1="23.3" y1="281.3" x2="20.3" y2="281.3" stroke="#333" stroke-width="0.8"/><line x1="23.3" y1="273.1" x2="21.3" y2="273.1" stroke="#333" stroke-width="0.8"/><line x1="23.3" y1="265.0" x2="20.3" y2="265.0" stroke="#333" stroke-width="0.8"/><line x1="23.3" y1="256.9" x2="21.3" y2="256.9" stroke="#333" stroke-width="0.8"/><line x1="23.3" y1="248.7" x2="20.3" y2="248.7" stroke="#333" stroke-width="0.8"/><line x1="23.3" y1="240.6" x2="21.3" y2="240.6" stroke="#333" stroke-width="0.8"/><line x1="23.3" y1="232.4" x2="20.3" y2="232.4" stroke="#333" stroke-width="0.8"/><line x1="23.3" y1="224.2" x2="21.3" y2="224.2" stroke="#333" stroke-width="0.8"/><line x1="23.3" y1="216.1" x2="20.3" y2="216.1" stroke="#333" stroke-width="0.8"/><line x1="22.8" y1="216.1" x2="270.8" y2="216.1" stroke="#858585" stroke-width="1.4"/><line x1="22.8" y1="379.1" x2="270.8" y2="379.1" stroke="#707070" stroke-width="1.4"/><line x1="23.3" y1="216.1" x2="23.3" y2="379.1" stroke="#c83838" stroke-width="1"/><line x1="270.3" y1="216.1" x2="270.3" y2="379.1" stroke="#c070ff" stroke-width="1"/><text transform="translate(18.0,380.8) scale(0.86,1)" class="tl">-10</text><text transform="translate(18.0,364.5) scale(0.86,1)" class="tl">-8</text><text transform="translate(18.0,348.2) scale(0.86,1)" class="tl">-6</text><text transform="translate(18.0,331.9) scale(0.86,1)" class="tl">-4</text><text transform="translate(18.0,315.6) scale(0.86,1)" class="tl">-2</text><text transform="translate(18.0,299.3) scale(0.86,1)" class="tl">0</text><text transform="translate(18.0,283.0) scale(0.86,1)" class="tl">2</text><text transform="translate(18.0,266.7) scale(0.86,1)" class="tl">4</text><text transform="translate(18.0,250.4) scale(0.86,1)" class="tl">6</text><text transform="translate(18.0,234.1) scale(0.86,1)" class="tl">8</text><text transform="translate(18.0,217.8) scale(0.86,1)" class="tl">10</text><line x1="23.8" y1="216.5" x2="269.8" y2="216.5" stroke="#000" stroke-width="1.5"/><text x="24.0" y="385.5" class="kl">Γ</text><text x="100.2" y="385.1" class="kl">M</text><text x="142.0" y="385.4" class="kl">K</text><text x="229.9" y="384.6" class="kl">Γ</text><text x="268.7" y="387.3" class="kl">A</text><line x1="370.9" y1="217.0" x2="370.9" y2="380.0" stroke="#ff80ff" stroke-width="1"/><line x1="414.5" y1="217.0" x2="414.5" y2="380.0" stroke="#5050d0" stroke-width="1"/><line x1="501.7" y1="217.0" x2="501.7" y2="380.0" stroke="#70c070" stroke-width="1"/><polygon points="295.3,305.3 370.9,307.0 414.5,309.0 458.1,306.5 501.7,306.4 542.3,307.2 542.3,349.2 295.3,349.2" fill="#9e0206"/><line x1="295.3" y1="307.5" x2="318.0" y2="307.5" stroke="#fff" stroke-opacity="0.98" stroke-width="0.9"/><line x1="318.0" y1="307.5" x2="342.9" y2="307.5" stroke="#fff" stroke-opacity="0.62" stroke-width="0.9"/><line x1="342.9" y1="307.5" x2="401.3" y2="307.5" stroke="#fff" stroke-opacity="0.89" stroke-width="0.9"/><line x1="401.3" y1="307.5" x2="473.2" y2="307.5" stroke="#fff" stroke-opacity="0.95" stroke-width="0.9"/><line x1="473.2" y1="307.5" x2="526.8" y2="307.5" stroke="#fff" stroke-opacity="0.83" stroke-width="0.9"/><line x1="417.1" y1="309.5" x2="485.5" y2="309.5" stroke="#fff" stroke-opacity="0.56" stroke-width="0.8"/><line x1="485.5" y1="309.5" x2="542.3" y2="309.5" stroke="#fff" stroke-opacity="0.58" stroke-width="0.8"/><line x1="295.3" y1="312.5" x2="321.2" y2="312.5" stroke="#fff" stroke-opacity="0.44" stroke-width="0.8"/><line x1="321.2" y1="312.5" x2="386.2" y2="312.5" stroke="#fff" stroke-opacity="0.51" stroke-width="0.8"/><line x1="426.6" y1="312.5" x2="446.8" y2="312.5" stroke="#fff" stroke-opacity="0.61" stroke-width="0.8"/><line x1="519.2" y1="312.5" x2="542.3" y2="312.5" stroke="#fff" stroke-opacity="0.57" stroke-width="0.8"/><line x1="333.6" y1="314.5" x2="410.9" y2="314.5" stroke="#fff" stroke-opacity="0.69" stroke-width="0.7"/><line x1="410.9" y1="314.5" x2="440.9" y2="314.5" stroke="#fff" stroke-opacity="0.84" stroke-width="0.7"/><line x1="440.9" y1="314.5" x2="494.2" y2="314.5" stroke="#fff" stroke-opacity="0.60" stroke-width="0.7"/><line x1="494.2" y1="314.5" x2="536.5" y2="314.5" stroke="#fff" stroke-opacity="0.88" stroke-width="0.7"/><line x1="536.5" y1="314.5" x2="542.3" y2="314.5" stroke="#fff" stroke-opacity="0.86" stroke-width="0.7"/><line x1="434.7" y1="317.5" x2="501.5" y2="317.5" stroke="#fff" stroke-opacity="0.56" stroke-width="0.8"/><line x1="523.2" y1="317.5" x2="542.3" y2="317.5" stroke="#fff" stroke-opacity="0.49" stroke-width="0.8"/><line x1="542.3" y1="317.5" x2="542.3" y2="317.5" stroke="#fff" stroke-opacity="0.44" stroke-width="0.8"/><line x1="295.3" y1="320.5" x2="310.3" y2="320.5" stroke="#fff" stroke-opacity="0.65" stroke-width="0.9"/><line x1="310.3" y1="320.5" x2="348.9" y2="320.5" stroke="#fff" stroke-opacity="1.00" stroke-width="0.9"/><line x1="348.9" y1="320.5" x2="403.9" y2="320.5" stroke="#fff" stroke-opacity="0.73" stroke-width="0.9"/><line x1="403.9" y1="320.5" x2="441.4" y2="320.5" stroke="#fff" stroke-opacity="0.66" stroke-width="0.9"/><line x1="511.6" y1="320.5" x2="542.3" y2="320.5" stroke="#fff" stroke-opacity="0.64" stroke-width="0.9"/><line x1="295.3" y1="323.5" x2="316.9" y2="323.5" stroke="#fff" stroke-opacity="0.73" stroke-width="0.9"/><line x1="316.9" y1="323.5" x2="385.8" y2="323.5" stroke="#fff" stroke-opacity="0.61" stroke-width="0.9"/><line x1="385.8" y1="323.5" x2="462.6" y2="323.5" stroke="#fff" stroke-opacity="0.67" stroke-width="0.9"/><line x1="462.6" y1="323.5" x2="512.9" y2="323.5" stroke="#fff" stroke-opacity="0.86" stroke-width="0.9"/><line x1="295.3" y1="326.5" x2="355.6" y2="326.5" stroke="#fff" stroke-opacity="0.78" stroke-width="1.0"/><line x1="355.6" y1="326.5" x2="381.4" y2="326.5" stroke="#fff" stroke-opacity="0.87" stroke-width="1.0"/><line x1="381.4" y1="326.5" x2="447.0" y2="326.5" stroke="#fff" stroke-opacity="0.71" stroke-width="1.0"/><line x1="393.2" y1="332.5" x2="431.3" y2="332.5" stroke="#fff" stroke-opacity="0.43" stroke-width="0.9"/><line x1="431.3" y1="332.5" x2="464.5" y2="332.5" stroke="#fff" stroke-opacity="0.66" stroke-width="0.9"/><line x1="464.5" y1="332.5" x2="541.7" y2="332.5" stroke="#fff" stroke-opacity="0.75" stroke-width="0.9"/><line x1="295.3" y1="339.5" x2="334.0" y2="339.5" stroke="#fff" stroke-opacity="0.71" stroke-width="0.9"/><line x1="334.0" y1="339.5" x2="361.8" y2="339.5" stroke="#fff" stroke-opacity="0.91" stroke-width="0.9"/><line x1="435.3" y1="339.5" x2="481.5" y2="339.5" stroke="#fff" stroke-opacity="1.00" stroke-width="0.9"/><line x1="481.5" y1="339.5" x2="502.0" y2="339.5" stroke="#fff" stroke-opacity="1.00" stroke-width="0.9"/><line x1="295.3" y1="343.5" x2="341.4" y2="343.5" stroke="#fff" stroke-opacity="0.60" stroke-width="0.9"/><line x1="378.0" y1="343.5" x2="456.1" y2="343.5" stroke="#fff" stroke-opacity="0.48" stroke-width="0.9"/><line x1="532.7" y1="343.5" x2="542.3" y2="343.5" stroke="#fff" stroke-opacity="0.41" stroke-width="0.9"/><line x1="510.1" y1="345.5" x2="533.6" y2="345.5" stroke="#fff" stroke-opacity="0.65" stroke-width="0.9"/><line x1="295.3" y1="306.5" x2="371.0" y2="306.5" stroke="#fff" stroke-opacity="0.49" stroke-width="0.8"/><line x1="371.0" y1="306.5" x2="439.7" y2="306.5" stroke="#fff" stroke-opacity="0.35" stroke-width="0.8"/><line x1="439.7" y1="306.5" x2="473.7" y2="306.5" stroke="#fff" stroke-opacity="0.42" stroke-width="0.8"/><line x1="473.7" y1="306.5" x2="505.6" y2="306.5" stroke="#fff" stroke-opacity="0.32" stroke-width="0.8"/><line x1="505.6" y1="306.5" x2="542.3" y2="306.5" stroke="#fff" stroke-opacity="0.39" stroke-width="0.8"/><line x1="438.2" y1="308.5" x2="487.2" y2="308.5" stroke="#fff" stroke-opacity="0.55" stroke-width="0.8"/><line x1="487.2" y1="308.5" x2="514.1" y2="308.5" stroke="#fff" stroke-opacity="0.67" stroke-width="0.8"/><line x1="404.5" y1="309.5" x2="435.6" y2="309.5" stroke="#fff" stroke-opacity="0.64" stroke-width="0.8"/><line x1="475.5" y1="313.5" x2="499.4" y2="313.5" stroke="#fff" stroke-opacity="0.67" stroke-width="0.8"/><line x1="499.4" y1="313.5" x2="519.1" y2="313.5" stroke="#fff" stroke-opacity="0.52" stroke-width="0.8"/><line x1="295.3" y1="315.5" x2="368.6" y2="315.5" stroke="#fff" stroke-opacity="0.68" stroke-width="0.8"/><line x1="368.6" y1="315.5" x2="426.5" y2="315.5" stroke="#fff" stroke-opacity="0.74" stroke-width="0.8"/><line x1="426.5" y1="315.5" x2="504.4" y2="315.5" stroke="#fff" stroke-opacity="0.77" stroke-width="0.8"/><line x1="504.4" y1="315.5" x2="542.3" y2="315.5" stroke="#fff" stroke-opacity="0.78" stroke-width="0.8"/><line x1="295.3" y1="317.5" x2="364.4" y2="317.5" stroke="#fff" stroke-opacity="0.49" stroke-width="0.8"/><line x1="364.4" y1="317.5" x2="412.9" y2="317.5" stroke="#fff" stroke-opacity="0.42" stroke-width="0.8"/><line x1="448.6" y1="317.5" x2="464.9" y2="317.5" stroke="#fff" stroke-opacity="0.49" stroke-width="0.8"/><line x1="464.9" y1="317.5" x2="481.1" y2="317.5" stroke="#fff" stroke-opacity="0.55" stroke-width="0.8"/><line x1="481.1" y1="317.5" x2="529.4" y2="317.5" stroke="#fff" stroke-opacity="0.65" stroke-width="0.8"/><line x1="295.3" y1="318.5" x2="317.1" y2="318.5" stroke="#fff" stroke-opacity="0.51" stroke-width="0.8"/><line x1="317.1" y1="318.5" x2="382.7" y2="318.5" stroke="#fff" stroke-opacity="0.55" stroke-width="0.8"/><line x1="425.2" y1="318.5" x2="493.4" y2="318.5" stroke="#fff" stroke-opacity="0.56" stroke-width="0.8"/><line x1="295.3" y1="320.5" x2="355.8" y2="320.5" stroke="#fff" stroke-opacity="0.29" stroke-width="0.8"/><line x1="531.3" y1="320.5" x2="542.3" y2="320.5" stroke="#fff" stroke-opacity="0.40" stroke-width="0.8"/><line x1="295.3" y1="322.5" x2="370.5" y2="322.5" stroke="#fff" stroke-opacity="0.33" stroke-width="0.8"/><line x1="370.5" y1="322.5" x2="419.8" y2="322.5" stroke="#fff" stroke-opacity="0.32" stroke-width="0.8"/><line x1="419.8" y1="322.5" x2="445.3" y2="322.5" stroke="#fff" stroke-opacity="0.34" stroke-width="0.8"/><line x1="445.3" y1="322.5" x2="480.6" y2="322.5" stroke="#fff" stroke-opacity="0.48" stroke-width="0.8"/><line x1="480.6" y1="322.5" x2="514.4" y2="322.5" stroke="#fff" stroke-opacity="0.34" stroke-width="0.8"/><line x1="514.4" y1="322.5" x2="542.3" y2="322.5" stroke="#fff" stroke-opacity="0.36" stroke-width="0.8"/><line x1="311.3" y1="323.5" x2="362.1" y2="323.5" stroke="#fff" stroke-opacity="0.49" stroke-width="0.8"/><line x1="362.1" y1="323.5" x2="437.9" y2="323.5" stroke="#fff" stroke-opacity="0.59" stroke-width="0.8"/><line x1="481.0" y1="323.5" x2="542.3" y2="323.5" stroke="#fff" stroke-opacity="0.50" stroke-width="0.8"/><line x1="453.2" y1="325.5" x2="494.5" y2="325.5" stroke="#fff" stroke-opacity="0.27" stroke-width="0.8"/><line x1="494.5" y1="325.5" x2="518.0" y2="325.5" stroke="#fff" stroke-opacity="0.42" stroke-width="0.8"/><line x1="518.0" y1="325.5" x2="542.3" y2="325.5" stroke="#fff" stroke-opacity="0.28" stroke-width="0.8"/><line x1="365.0" y1="327.5" x2="423.6" y2="327.5" stroke="#fff" stroke-opacity="0.44" stroke-width="0.8"/><line x1="326.2" y1="328.5" x2="361.3" y2="328.5" stroke="#fff" stroke-opacity="0.38" stroke-width="0.8"/><line x1="401.1" y1="328.5" x2="448.8" y2="328.5" stroke="#fff" stroke-opacity="0.53" stroke-width="0.8"/><line x1="448.8" y1="328.5" x2="464.1" y2="328.5" stroke="#fff" stroke-opacity="0.40" stroke-width="0.8"/><line x1="464.1" y1="328.5" x2="505.1" y2="328.5" stroke="#fff" stroke-opacity="0.38" stroke-width="0.8"/><line x1="505.1" y1="328.5" x2="539.9" y2="328.5" stroke="#fff" stroke-opacity="0.56" stroke-width="0.8"/><line x1="486.1" y1="330.5" x2="542.3" y2="330.5" stroke="#fff" stroke-opacity="0.76" stroke-width="0.8"/><line x1="431.0" y1="332.5" x2="455.0" y2="332.5" stroke="#fff" stroke-opacity="0.56" stroke-width="0.8"/><line x1="524.3" y1="332.5" x2="542.3" y2="332.5" stroke="#fff" stroke-opacity="0.69" stroke-width="0.8"/><line x1="354.7" y1="334.5" x2="384.6" y2="334.5" stroke="#fff" stroke-opacity="0.36" stroke-width="0.8"/><line x1="384.6" y1="334.5" x2="423.1" y2="334.5" stroke="#fff" stroke-opacity="0.55" stroke-width="0.8"/><line x1="423.1" y1="334.5" x2="474.4" y2="334.5" stroke="#fff" stroke-opacity="0.50" stroke-width="0.8"/><line x1="474.4" y1="334.5" x2="533.6" y2="334.5" stroke="#fff" stroke-opacity="0.33" stroke-width="0.8"/><rect x="295.3" y="335.8" width="247" height="2.2" fill="#fff"/><g fill="none" stroke="#a80a10" stroke-width="1.2" clip-path="url(#clipc)"><path d="M295.3,281.8 L297.4,281.7 L299.5,281.6 L301.6,281.4 L303.7,281.2 L305.8,281.0 L307.9,280.8 L310.0,280.5 L312.1,280.2 L314.2,279.9 L316.3,279.6 L318.4,279.3 L320.5,278.9 L322.6,278.5 L324.7,278.1 L326.8,277.7 L328.9,277.3 L331.0,276.9 L333.1,276.5 L335.2,276.0 L337.3,275.5 L339.4,274.9 L341.5,274.3 L343.6,273.6 L345.7,272.9 L347.8,272.2 L349.9,271.5 L352.0,270.8 L354.1,270.1 L356.2,269.4 L358.3,268.6 L360.4,267.9 L362.5,267.1 L364.6,266.4 L366.7,265.6 L368.8,264.8 L370.9,263.9"/><path d="M295.3,261.8 L297.4,261.7 L299.5,261.5 L301.6,261.3 L303.7,261.2 L305.8,261.0 L307.9,260.8 L310.0,260.6 L312.1,260.3 L314.2,260.1 L316.3,259.9 L318.4,259.6 L320.5,259.4 L322.6,259.1 L324.7,258.9 L326.8,258.6 L328.9,258.3 L331.0,258.0 L333.1,257.8 L335.2,257.5 L337.3,257.2 L339.4,256.8 L341.5,256.5 L343.6,256.2 L345.7,255.8 L347.8,255.4 L349.9,255.1 L352.0,254.7 L354.1,254.3 L356.2,253.9 L358.3,253.4 L360.4,253.0 L362.5,252.6 L364.6,252.1 L366.7,251.7 L368.8,251.2 L370.9,250.7"/><path d="M295.3,241.0 L297.4,241.1 L299.5,241.3 L301.6,241.5 L303.7,241.7 L305.8,242.0 L307.9,242.3 L310.0,242.6 L312.1,243.0 L314.2,243.4 L316.3,243.9 L318.4,244.6 L320.5,245.2 L322.6,245.9 L324.7,246.7 L326.8,247.4 L328.9,248.2 L331.0,249.0 L333.1,249.8 L335.2,250.6 L337.3,251.4 L339.4,252.3 L341.5,253.3 L343.6,254.2 L345.7,255.2 L347.8,256.1 L349.9,256.9 L352.0,257.8 L354.1,258.5 L356.2,259.3 L358.3,260.0 L360.4,260.7 L362.5,261.4 L364.6,262.1 L366.7,262.7 L368.8,263.3 L370.9,263.9"/><path d="M295.3,241.4 L297.4,241.7 L299.5,241.9 L301.6,242.1 L303.7,242.4 L305.8,242.6 L307.9,242.8 L310.0,243.1 L312.1,243.3 L314.2,243.5 L316.3,243.8 L318.4,244.0 L320.5,244.3 L322.6,244.5 L324.7,244.8 L326.8,245.0 L328.9,245.3 L331.0,245.5 L333.1,245.8 L335.2,246.0 L337.3,246.3 L339.4,246.6 L341.5,246.8 L343.6,247.1 L345.7,247.4 L347.8,247.6 L349.9,247.9 L352.0,248.2 L354.1,248.4 L356.2,248.7 L358.3,249.0 L360.4,249.3 L362.5,249.6 L364.6,249.9 L366.7,250.2 L368.8,250.4 L370.9,250.7"/><path d="M295.3,241.4 L298.6,241.4 L301.9,241.4 L305.2,241.4 L308.4,241.4 L311.7,241.4 L315.0,241.4 L318.3,241.4 L321.6,241.4 L324.9,241.4 L328.2,241.4 L331.5,241.4 L334.7,241.4 L338.0,241.4 L341.3,241.4 L344.6,241.4 L347.9,241.4 L351.2,241.4 L354.5,241.4 L357.8,241.4 L361.0,241.4 L364.3,241.4 L367.6,241.4 L370.9,241.4"/><path d="M295.3,240.2 L298.6,240.1 L301.9,240.0 L305.2,239.8 L308.4,239.7 L311.7,239.5 L315.0,239.3 L318.3,239.1 L321.6,238.8 L324.9,238.6 L328.2,238.4 L331.5,238.1 L334.7,237.9 L338.0,237.6 L341.3,237.4 L344.6,237.1 L347.9,236.9 L351.2,236.7 L354.5,236.5 L357.8,236.3 L361.0,236.1 L364.3,236.0 L367.6,235.8 L370.9,235.7"/><path d="M295.3,243.5 L297.4,243.6 L299.5,243.6 L301.6,243.7 L303.7,243.7 L305.8,243.7 L307.9,243.8 L310.0,243.8 L312.1,243.8 L314.2,243.8 L316.3,243.9 L318.4,243.9 L320.5,243.9 L322.6,243.9 L324.7,243.9 L326.8,243.9 L328.9,243.9 L331.0,243.9 L333.1,243.9 L335.2,243.9 L337.3,243.9 L339.4,243.8 L341.5,243.7 L343.6,243.6 L345.7,243.5 L347.8,243.4 L349.9,243.3 L352.0,243.2 L354.1,243.0 L356.2,242.8 L358.3,242.7 L360.4,242.5 L362.5,242.3 L364.6,242.1 L366.7,241.9 L368.8,241.7 L370.9,241.4"/><path d="M295.3,232.3 L297.4,232.3 L299.5,232.2 L301.6,232.1 L303.7,232.0 L305.8,231.9 L307.9,231.7 L310.0,231.6 L312.1,231.4 L314.2,231.2 L316.3,230.9 L318.4,230.6 L320.5,230.3 L322.6,230.0 L324.7,229.6 L326.8,229.3 L328.9,228.8 L331.0,228.3 L333.1,227.7 L335.2,227.1 L337.3,226.5 L339.4,225.9 L341.5,225.3 L343.6,224.6 L345.7,223.9 L347.8,223.3 L349.9,222.6 L352.0,222.0 L354.1,221.4 L356.2,220.8 L358.3,220.2 L360.4,219.7 L362.5,219.2 L364.6,219.0 L366.7,218.8 L368.8,218.7 L370.9,218.6"/><path d="M295.3,232.3 L297.4,232.3 L299.5,232.2 L301.6,232.2 L303.7,232.1 L305.8,232.0 L307.9,231.9 L310.0,231.8 L312.1,231.7 L314.2,231.5 L316.3,231.4 L318.4,231.2 L320.5,230.9 L322.6,230.7 L324.7,230.5 L326.8,230.1 L328.9,229.7 L331.0,229.2 L333.1,228.7 L335.2,228.1 L337.3,227.6 L339.4,227.1 L341.5,226.7 L343.6,226.2 L345.7,225.8 L347.8,225.4 L349.9,225.0 L352.0,224.6 L354.1,224.2 L356.2,223.9 L358.3,223.6 L360.4,223.3 L362.5,222.9 L364.6,222.7 L366.7,222.4 L368.8,222.1 L370.9,221.9"/><path d="M295.3,240.6 L297.4,240.6 L299.5,240.5 L301.6,240.5 L303.7,240.4 L305.8,240.3 L307.9,240.1 L310.0,240.0 L312.1,239.9 L314.2,239.7 L316.3,239.5 L318.4,239.4 L320.5,239.2 L322.6,239.0 L324.7,238.8 L326.8,238.5 L328.9,238.3 L331.0,238.0 L333.1,237.7 L335.2,237.4 L337.3,237.0 L339.4,236.7 L341.5,236.3 L343.6,235.9 L345.7,235.5 L347.8,235.1 L349.9,234.7 L352.0,234.2 L354.1,233.7 L356.2,233.2 L358.3,232.7 L360.4,232.2 L362.5,231.7 L364.6,231.1 L366.7,230.6 L368.8,230.0 L370.9,229.4"/><path d="M295.3,232.3 L297.4,232.1 L299.5,231.8 L301.6,231.5 L303.7,231.3 L305.8,231.1 L307.9,230.8 L310.0,230.6 L312.1,230.4 L314.2,230.2 L316.3,230.0 L318.4,229.8 L320.5,229.7 L322.6,229.5 L324.7,229.4 L326.8,229.3 L328.9,229.3 L331.0,229.2 L333.1,229.2 L335.2,229.2 L337.3,229.2 L339.4,229.2 L341.5,229.2 L343.6,229.2 L345.7,229.2 L347.8,229.2 L349.9,229.2 L352.0,229.2 L354.1,229.3 L356.2,229.3 L358.3,229.3 L360.4,229.3 L362.5,229.3 L364.6,229.3 L366.7,229.3 L368.8,229.4 L370.9,229.4"/><path d="M295.3,225.3 L297.4,225.3 L299.5,225.3 L301.6,225.3 L303.7,225.3 L305.8,225.3 L307.9,225.4 L310.0,225.4 L312.1,225.4 L314.2,225.4 L316.3,225.4 L318.4,225.5 L320.5,225.5 L322.6,225.5 L324.7,225.5 L326.8,225.6 L328.9,225.6 L331.0,225.7 L333.1,225.7 L335.2,225.8 L337.3,225.9 L339.4,226.0 L341.5,226.1 L343.6,226.2 L345.7,226.4 L347.8,226.5 L349.9,226.6 L352.0,226.8 L354.1,226.9 L356.2,227.1 L358.3,227.3 L360.4,227.5 L362.5,227.6 L364.6,227.8 L366.7,228.0 L368.8,228.2 L370.9,228.4"/><path d="M295.3,221.5 L298.6,221.5 L301.9,221.5 L305.2,221.5 L308.4,221.5 L311.7,221.5 L315.0,221.5 L318.3,221.5 L321.6,221.5 L324.9,221.5 L328.2,221.5 L331.5,221.5 L334.7,221.5 L338.0,221.5 L341.3,221.5 L344.6,221.5 L347.9,221.5 L351.2,221.5 L354.5,221.5 L357.8,221.5 L361.0,221.5 L364.3,221.5 L367.6,221.5 L370.9,221.5"/><path d="M295.3,218.6 L298.6,218.6 L301.9,218.6 L305.2,218.6 L308.4,218.5 L311.7,218.5 L315.0,218.4 L318.3,218.4 L321.6,218.4 L324.9,218.3 L328.2,218.3 L331.5,218.2 L334.7,218.2 L338.0,218.1 L341.3,218.1 L344.6,218.0 L347.9,218.0 L351.2,217.9 L354.5,217.9 L357.8,217.8 L361.0,217.8 L364.3,217.8 L367.6,217.8 L370.9,217.7"/><path d="M295.3,217.2 L298.6,217.2 L301.9,217.2 L305.2,217.2 L308.4,217.2 L311.7,217.2 L315.0,217.2 L318.3,217.2 L321.6,217.2 L324.9,217.2 L328.2,217.2 L331.5,217.2 L334.7,217.2 L338.0,217.2 L341.3,217.2 L344.6,217.2 L347.9,217.2 L351.2,217.2 L354.5,217.2 L357.8,217.2 L361.0,217.2 L364.3,217.2 L367.6,217.2 L370.9,217.2"/><path d="M370.9,263.9 L372.8,263.8 L374.7,263.7 L376.6,263.6 L378.5,263.4 L380.4,263.2 L382.3,263.0 L384.2,262.8 L386.1,262.6 L388.0,262.4 L389.9,262.1 L391.8,261.9 L393.6,261.7 L395.5,261.4 L397.4,261.2 L399.3,261.0 L401.2,260.7 L403.1,260.5 L405.0,260.3 L406.9,260.2 L408.8,260.0 L410.7,259.8 L412.6,259.7 L414.5,259.6"/><path d="M370.9,250.7 L372.8,250.7 L374.7,250.6 L376.6,250.5 L378.5,250.5 L380.4,250.4 L382.3,250.2 L384.2,250.1 L386.1,250.0 L388.0,249.9 L389.9,249.8 L391.8,249.6 L393.6,249.5 L395.5,249.4 L397.4,249.2 L399.3,249.1 L401.2,249.0 L403.1,248.9 L405.0,248.8 L406.9,248.7 L408.8,248.6 L410.7,248.5 L412.6,248.4 L414.5,248.4"/><path d="M370.9,241.4 L372.8,242.2 L374.7,243.0 L376.6,243.8 L378.5,244.5 L380.4,245.3 L382.3,246.1 L384.2,246.9 L386.1,247.7 L388.0,248.4 L389.9,249.2 L391.8,250.0 L393.6,250.8 L395.5,251.6 L397.4,252.4 L399.3,253.2 L401.2,254.0 L403.1,254.8 L405.0,255.6 L406.9,256.4 L408.8,257.2 L410.7,258.0 L412.6,258.8 L414.5,259.6"/><path d="M370.9,235.7 L372.8,236.3 L374.7,236.9 L376.6,237.5 L378.5,238.1 L380.4,238.6 L382.3,239.2 L384.2,239.8 L386.1,240.3 L388.0,240.9 L389.9,241.4 L391.8,242.0 L393.6,242.5 L395.5,243.1 L397.4,243.6 L399.3,244.2 L401.2,244.7 L403.1,245.2 L405.0,245.8 L406.9,246.3 L408.8,246.8 L410.7,247.3 L412.6,247.9 L414.5,248.4"/><path d="M370.9,229.4 L372.8,229.2 L374.7,229.1 L376.6,228.9 L378.5,228.8 L380.4,228.6 L382.3,228.4 L384.2,228.2 L386.1,228.0 L388.0,227.8 L389.9,227.5 L391.8,227.3 L393.6,227.1 L395.5,226.8 L397.4,226.6 L399.3,226.3 L401.2,226.0 L403.1,225.7 L405.0,225.4 L406.9,225.1 L408.8,224.7 L410.7,224.4 L412.6,224.0 L414.5,223.7"/><path d="M370.9,235.7 L372.8,235.3 L374.7,234.9 L376.6,234.5 L378.5,234.1 L380.4,233.6 L382.3,233.2 L384.2,232.7 L386.1,232.2 L388.0,231.7 L389.9,231.2 L391.8,230.7 L393.6,230.2 L395.5,229.7 L397.4,229.1 L399.3,228.6 L401.2,228.0 L403.1,227.4 L405.0,226.8 L406.9,226.2 L408.8,225.6 L410.7,225.0 L412.6,224.3 L414.5,223.7"/><path d="M370.9,241.4 L372.8,240.8 L374.7,240.1 L376.6,239.5 L378.5,238.8 L380.4,238.1 L382.3,237.4 L384.2,236.7 L386.1,235.9 L388.0,235.2 L389.9,234.4 L391.8,233.7 L393.6,232.9 L395.5,232.1 L397.4,231.3 L399.3,230.5 L401.2,229.7 L403.1,228.9 L405.0,228.1 L406.9,227.2 L408.8,226.3 L410.7,225.5 L412.6,224.6 L414.5,223.7"/><path d="M370.9,228.4 L372.8,228.3 L374.7,228.2 L376.6,228.0 L378.5,227.8 L380.4,227.6 L382.3,227.4 L384.2,227.2 L386.1,226.9 L388.0,226.7 L389.9,226.4 L391.8,226.2 L393.6,225.9 L395.5,225.7 L397.4,225.4 L399.3,225.1 L401.2,224.9 L403.1,224.7 L405.0,224.5 L406.9,224.3 L408.8,224.1 L410.7,223.9 L412.6,223.8 L414.5,223.7"/><path d="M370.9,221.5 L372.8,221.4 L374.7,221.3 L376.6,221.2 L378.5,221.2 L380.4,221.1 L382.3,221.1 L384.2,221.1 L386.1,221.1 L388.0,221.1 L389.9,221.1 L391.8,221.1 L393.6,221.1 L395.5,221.1 L397.4,221.2 L399.3,221.4 L401.2,221.6 L403.1,221.8 L405.0,222.1 L406.9,222.3 L408.8,222.7 L410.7,223.0 L412.6,223.3 L414.5,223.7"/><path d="M370.9,218.1 L372.8,218.1 L374.7,218.2 L376.6,218.2 L378.5,218.3 L380.4,218.4 L382.3,218.5 L384.2,218.6 L386.1,218.7 L388.0,218.8 L389.9,218.9 L391.8,219.0 L393.6,219.1 L395.5,219.2 L397.4,219.4 L399.3,219.5 L401.2,219.7 L403.1,219.9 L405.0,220.0 L406.9,220.2 L408.8,220.4 L410.7,220.6 L412.6,220.9 L414.5,221.1"/><path d="M370.9,217.7 L372.8,217.7 L374.7,217.7 L376.6,217.7 L378.5,217.7 L380.4,217.7 L382.3,217.8 L384.2,217.8 L386.1,217.8 L388.0,217.8 L389.9,217.8 L391.8,217.8 L393.6,217.8 L395.5,217.8 L397.4,217.8 L399.3,217.8 L401.2,217.8 L403.1,217.8 L405.0,217.8 L406.9,217.8 L408.8,217.8 L410.7,217.8 L412.6,217.8 L414.5,217.8"/><path d="M370.9,217.2 L372.8,217.2 L374.7,217.2 L376.6,217.1 L378.5,217.1 L380.4,217.1 L382.3,217.1 L384.2,217.1 L386.1,217.1 L388.0,217.1 L389.9,217.1 L391.8,217.1 L393.6,217.1 L395.5,217.1 L397.4,217.1 L399.3,217.1 L401.2,217.0 L403.1,217.0 L405.0,217.0 L406.9,217.0 L408.8,217.0 L410.7,217.0 L412.6,217.0 L414.5,217.0"/><path d="M370.9,232.8 L372.8,232.6 L374.7,232.3 L376.6,232.1 L378.5,231.8 L380.4,231.5 L382.3,231.2 L384.2,230.8 L386.1,230.5 L388.0,230.1 L389.9,229.8 L391.8,229.4 L393.6,229.0 L395.5,228.6 L397.4,228.2 L399.3,227.8 L401.2,227.3 L403.1,226.8 L405.0,226.4 L406.9,225.8 L408.8,225.3 L410.7,224.8 L412.6,224.2 L414.5,223.7"/><path d="M370.9,223.5 L372.8,223.3 L374.7,223.1 L376.6,223.0 L378.5,222.8 L380.4,222.7 L382.3,222.6 L384.2,222.5 L386.1,222.4 L388.0,222.4 L389.9,222.3 L391.8,222.3 L393.6,222.3 L395.5,222.3 L397.4,222.4 L399.3,222.4 L401.2,222.5 L403.1,222.6 L405.0,222.8 L406.9,222.9 L408.8,223.1 L410.7,223.3 L412.6,223.5 L414.5,223.7"/><path d="M414.5,259.6 L416.6,260.5 L418.7,261.3 L420.7,262.2 L422.8,263.0 L424.9,263.8 L427.0,264.6 L429.0,265.4 L431.1,266.1 L433.2,266.9 L435.3,267.6 L437.3,268.3 L439.4,269.0 L441.5,269.7 L443.6,270.4 L445.6,271.0 L447.7,271.6 L449.8,272.2 L451.9,272.8 L453.9,273.4 L456.0,273.9 L458.1,274.5 L460.2,275.0 L462.3,275.5 L464.3,276.1 L466.4,276.6 L468.5,277.1 L470.6,277.5 L472.6,278.0 L474.7,278.4 L476.8,278.8 L478.9,279.2 L480.9,279.5 L483.0,279.8 L485.1,280.1 L487.2,280.4 L489.2,280.7 L491.3,280.9 L493.4,281.2 L495.5,281.4 L497.5,281.6 L499.6,281.8 L501.7,282.0"/><path d="M414.5,248.4 L416.6,248.8 L418.7,249.1 L420.7,249.5 L422.8,249.9 L424.9,250.2 L427.0,250.6 L429.0,251.0 L431.1,251.3 L433.2,251.7 L435.3,252.0 L437.3,252.4 L439.4,252.8 L441.5,253.1 L443.6,253.4 L445.6,253.8 L447.7,254.1 L449.8,254.5 L451.9,254.8 L453.9,255.1 L456.0,255.5 L458.1,255.8 L460.2,256.1 L462.3,256.4 L464.3,256.7 L466.4,257.1 L468.5,257.4 L470.6,257.7 L472.6,258.0 L474.7,258.3 L476.8,258.6 L478.9,258.9 L480.9,259.2 L483.0,259.5 L485.1,259.8 L487.2,260.1 L489.2,260.4 L491.3,260.7 L493.4,261.0 L495.5,261.3 L497.5,261.6 L499.6,261.9 L501.7,262.2"/><path d="M414.5,259.6 L416.6,259.1 L418.7,258.6 L420.7,258.0 L422.8,257.5 L424.9,257.0 L427.0,256.5 L429.0,255.9 L431.1,255.4 L433.2,254.9 L435.3,254.3 L437.3,253.8 L439.4,253.3 L441.5,252.8 L443.6,252.2 L445.6,251.7 L447.7,251.2 L449.8,250.6 L451.9,250.1 L453.9,249.5 L456.0,249.0 L458.1,248.3 L460.2,247.7 L462.3,247.0 L464.3,246.3 L466.4,245.6 L468.5,244.9 L470.6,244.2 L472.6,243.6 L474.7,243.0 L476.8,242.5 L478.9,242.0 L480.9,241.7 L483.0,241.4 L485.1,241.2 L487.2,241.2 L489.2,241.2 L491.3,241.1 L493.4,241.1 L495.5,241.1 L497.5,241.1 L499.6,241.0 L501.7,241.0"/><path d="M414.5,248.4 L416.6,248.1 L418.7,247.8 L420.7,247.6 L422.8,247.3 L424.9,247.1 L427.0,246.8 L429.0,246.6 L431.1,246.3 L433.2,246.1 L435.3,245.8 L437.3,245.6 L439.4,245.4 L441.5,245.1 L443.6,244.9 L445.6,244.7 L447.7,244.5 L449.8,244.3 L451.9,244.1 L453.9,243.9 L456.0,243.7 L458.1,243.5 L460.2,243.3 L462.3,243.1 L464.3,242.9 L466.4,242.7 L468.5,242.5 L470.6,242.3 L472.6,242.1 L474.7,241.9 L476.8,241.8 L478.9,241.6 L480.9,241.5 L483.0,241.4 L485.1,241.3 L487.2,241.1 L489.2,241.1 L491.3,241.0 L493.4,240.9 L495.5,240.8 L497.5,240.7 L499.6,240.7 L501.7,240.6"/><path d="M414.5,223.7 L416.6,224.1 L418.7,224.4 L420.7,224.8 L422.8,225.3 L424.9,225.7 L427.0,226.1 L429.0,226.6 L431.1,227.0 L433.2,227.5 L435.3,228.0 L437.3,228.4 L439.4,228.9 L441.5,229.4 L443.6,230.0 L445.6,230.6 L447.7,231.2 L449.8,231.9 L451.9,232.5 L453.9,233.2 L456.0,233.8 L458.1,234.4 L460.2,235.0 L462.3,235.6 L464.3,236.1 L466.4,236.5 L468.5,236.9 L470.6,237.2 L472.6,237.6 L474.7,237.9 L476.8,238.2 L478.9,238.5 L480.9,238.8 L483.0,239.0 L485.1,239.2 L487.2,239.3 L489.2,239.4 L491.3,239.5 L493.4,239.6 L495.5,239.7 L497.5,239.8 L499.6,239.8 L501.7,239.8"/><path d="M414.5,223.7 L416.6,224.2 L418.7,224.6 L420.7,225.1 L422.8,225.6 L424.9,226.1 L427.0,226.6 L429.0,227.1 L431.1,227.6 L433.2,228.1 L435.3,228.7 L437.3,229.2 L439.4,229.7 L441.5,230.3 L443.6,230.9 L445.6,231.5 L447.7,232.2 L449.8,232.9 L451.9,233.6 L453.9,234.2 L456.0,234.9 L458.1,235.5 L460.2,236.1 L462.3,236.6 L464.3,237.0 L466.4,237.3 L468.5,237.6 L470.6,237.8 L472.6,238.0 L474.7,238.2 L476.8,238.3 L478.9,238.5 L480.9,238.6 L483.0,238.7 L485.1,238.8 L487.2,238.9 L489.2,239.0 L491.3,239.1 L493.4,239.2 L495.5,239.3 L497.5,239.3 L499.6,239.4 L501.7,239.4"/><path d="M414.5,222.3 L416.6,222.5 L418.7,222.8 L420.7,223.0 L422.8,223.3 L424.9,223.5 L427.0,223.7 L429.0,224.0 L431.1,224.2 L433.2,224.5 L435.3,224.7 L437.3,225.0 L439.4,225.2 L441.5,225.5 L443.6,225.8 L445.6,226.0 L447.7,226.3 L449.8,226.5 L451.9,226.8 L453.9,227.1 L456.0,227.3 L458.1,227.6 L460.2,227.9 L462.3,228.2 L464.3,228.5 L466.4,228.8 L468.5,229.2 L470.6,229.6 L472.6,229.9 L474.7,230.3 L476.8,230.6 L478.9,230.9 L480.9,231.2 L483.0,231.5 L485.1,231.7 L487.2,232.0 L489.2,232.1 L491.3,232.3 L493.4,232.3 L495.5,232.4 L497.5,232.4 L499.6,232.5 L501.7,232.5"/><path d="M414.5,217.8 L416.6,217.8 L418.7,217.9 L420.7,218.0 L422.8,218.1 L424.9,218.2 L427.0,218.3 L429.0,218.4 L431.1,218.6 L433.2,218.7 L435.3,218.9 L437.3,219.2 L439.4,219.5 L441.5,219.9 L443.6,220.3 L445.6,220.7 L447.7,221.1 L449.8,221.6 L451.9,222.0 L453.9,222.4 L456.0,222.8 L458.1,223.2 L460.2,223.5 L462.3,223.9 L464.3,224.1 L466.4,224.3 L468.5,224.5 L470.6,224.6 L472.6,224.7 L474.7,224.9 L476.8,225.0 L478.9,225.2 L480.9,225.3 L483.0,225.4 L485.1,225.5 L487.2,225.6 L489.2,225.7 L491.3,225.8 L493.4,225.8 L495.5,225.9 L497.5,225.9 L499.6,226.0 L501.7,226.0"/><path d="M414.5,217.8 L418.3,217.9 L422.1,217.9 L425.9,218.0 L429.7,218.1 L433.5,218.2 L437.2,218.3 L441.0,218.4 L444.8,218.5 L448.6,218.6 L452.4,218.7 L456.2,218.8 L460.0,218.9 L463.8,219.1 L467.6,219.2 L471.4,219.3 L475.2,219.4 L479.0,219.5 L482.7,219.6 L486.5,219.7 L490.3,219.8 L494.1,219.8 L497.9,219.9 L501.7,219.9"/><path d="M414.5,217.0 L418.3,217.0 L422.1,217.0 L425.9,217.0 L429.7,217.0 L433.5,217.1 L437.2,217.1 L441.0,217.1 L444.8,217.1 L448.6,217.1 L452.4,217.1 L456.2,217.2 L460.0,217.2 L463.8,217.2 L467.6,217.2 L471.4,217.2 L475.2,217.2 L479.0,217.3 L482.7,217.3 L486.5,217.3 L490.3,217.3 L494.1,217.3 L497.9,217.3 L501.7,217.3"/><path d="M414.5,223.7 L416.6,223.8 L418.7,224.0 L420.7,224.1 L422.8,224.3 L424.9,224.4 L427.0,224.6 L429.0,224.8 L431.1,225.0 L433.2,225.1 L435.3,225.3 L437.3,225.5 L439.4,225.7 L441.5,225.9 L443.6,226.2 L445.6,226.4 L447.7,226.6 L449.8,226.8 L451.9,227.1 L453.9,227.4 L456.0,227.6 L458.1,228.0 L460.2,228.3 L462.3,228.6 L464.3,229.0 L466.4,229.3 L468.5,229.7 L470.6,230.0 L472.6,230.3 L474.7,230.6 L476.8,230.9 L478.9,231.2 L480.9,231.4 L483.0,231.6 L485.1,231.7 L487.2,231.9 L489.2,232.0 L491.3,232.1 L493.4,232.2 L495.5,232.3 L497.5,232.4 L499.6,232.4 L501.7,232.5"/><path d="M414.5,223.7 L416.6,223.5 L418.7,223.4 L420.7,223.2 L422.8,223.1 L424.9,222.9 L427.0,222.8 L429.0,222.6 L431.1,222.5 L433.2,222.4 L435.3,222.2 L437.3,222.1 L439.4,222.0 L441.5,221.9 L443.6,221.7 L445.6,221.6 L447.7,221.5 L449.8,221.4 L451.9,221.3 L453.9,221.2 L456.0,221.2 L458.1,221.1 L460.2,221.0 L462.3,220.9 L464.3,220.9 L466.4,220.8 L468.5,220.7 L470.6,220.6 L472.6,220.6 L474.7,220.5 L476.8,220.4 L478.9,220.4 L480.9,220.3 L483.0,220.3 L485.1,220.2 L487.2,220.2 L489.2,220.1 L491.3,220.1 L493.4,220.0 L495.5,220.0 L497.5,220.0 L499.6,220.0 L501.7,219.9"/><path d="M501.7,282.0 L503.5,281.7 L505.2,281.5 L507.0,281.3 L508.8,281.0 L510.5,280.8 L512.3,280.5 L514.1,280.3 L515.8,280.0 L517.6,279.7 L519.4,279.4 L521.1,279.1 L522.9,278.8 L524.6,278.5 L526.4,278.1 L528.2,277.8 L529.9,277.4 L531.7,277.1 L533.5,276.7 L535.2,276.3 L537.0,275.9 L538.8,275.5 L540.5,275.0 L542.3,274.6"/><path d="M501.7,262.2 L503.5,262.4 L505.2,262.8 L507.0,263.2 L508.8,263.7 L510.5,264.2 L512.3,264.8 L514.1,265.4 L515.8,266.0 L517.6,266.7 L519.4,267.4 L521.1,268.0 L522.9,268.7 L524.6,269.4 L526.4,270.1 L528.2,270.8 L529.9,271.4 L531.7,272.0 L533.5,272.6 L535.2,273.1 L537.0,273.6 L538.8,274.0 L540.5,274.3 L542.3,274.6"/><path d="M501.7,262.2 L503.5,261.9 L505.2,261.5 L507.0,261.1 L508.8,260.6 L510.5,260.1 L512.3,259.5 L514.1,258.9 L515.8,258.3 L517.6,257.6 L519.4,256.9 L521.1,256.3 L522.9,255.6 L524.6,254.9 L526.4,254.2 L528.2,253.5 L529.9,252.9 L531.7,252.3 L533.5,251.7 L535.2,251.2 L537.0,250.7 L538.8,250.3 L540.5,250.0 L542.3,249.7"/><path d="M501.7,241.0 L503.5,241.2 L505.2,241.3 L507.0,241.5 L508.8,241.7 L510.5,242.0 L512.3,242.2 L514.1,242.5 L515.8,242.8 L517.6,243.1 L519.4,243.4 L521.1,243.7 L522.9,244.1 L524.6,244.4 L526.4,244.8 L528.2,245.3 L529.9,245.7 L531.7,246.2 L533.5,246.8 L535.2,247.3 L537.0,247.9 L538.8,248.5 L540.5,249.1 L542.3,249.7"/><path d="M501.7,239.8 L503.5,239.9 L505.2,240.0 L507.0,240.0 L508.8,240.1 L510.5,240.2 L512.3,240.4 L514.1,240.5 L515.8,240.6 L517.6,240.8 L519.4,240.9 L521.1,241.1 L522.9,241.2 L524.6,241.3 L526.4,241.5 L528.2,241.6 L529.9,241.8 L531.7,241.9 L533.5,242.0 L535.2,242.1 L537.0,242.2 L538.8,242.3 L540.5,242.4 L542.3,242.4"/><path d="M501.7,239.4 L503.5,239.5 L505.2,239.5 L507.0,239.6 L508.8,239.7 L510.5,239.8 L512.3,239.9 L514.1,240.0 L515.8,240.2 L517.6,240.3 L519.4,240.4 L521.1,240.6 L522.9,240.7 L524.6,240.8 L526.4,241.0 L528.2,241.1 L529.9,241.2 L531.7,241.3 L533.5,241.5 L535.2,241.6 L537.0,241.7 L538.8,241.7 L540.5,241.8 L542.3,241.9"/><path d="M501.7,232.5 L503.5,232.7 L505.2,233.0 L507.0,233.3 L508.8,233.6 L510.5,234.0 L512.3,234.5 L514.1,234.9 L515.8,235.4 L517.6,235.9 L519.4,236.4 L521.1,236.9 L522.9,237.4 L524.6,237.9 L526.4,238.5 L528.2,239.0 L529.9,239.4 L531.7,239.9 L533.5,240.3 L535.2,240.7 L537.0,241.1 L538.8,241.4 L540.5,241.6 L542.3,241.9"/><path d="M501.7,240.6 L503.5,240.5 L505.2,240.3 L507.0,240.2 L508.8,239.9 L510.5,239.7 L512.3,239.5 L514.1,239.2 L515.8,238.9 L517.6,238.6 L519.4,238.3 L521.1,238.0 L522.9,237.7 L524.6,237.4 L526.4,237.1 L528.2,236.8 L529.9,236.5 L531.7,236.2 L533.5,235.9 L535.2,235.7 L537.0,235.5 L538.8,235.3 L540.5,235.1 L542.3,235.0"/><path d="M501.7,226.0 L503.5,225.9 L505.2,225.8 L507.0,225.6 L508.8,225.5 L510.5,225.3 L512.3,225.2 L514.1,225.0 L515.8,224.8 L517.6,224.6 L519.4,224.4 L521.1,224.2 L522.9,224.0 L524.6,223.8 L526.4,223.6 L528.2,223.4 L529.9,223.2 L531.7,223.0 L533.5,222.8 L535.2,222.7 L537.0,222.5 L538.8,222.4 L540.5,222.3 L542.3,222.2"/><path d="M501.7,219.9 L503.5,220.1 L505.2,220.2 L507.0,220.4 L508.8,220.7 L510.5,220.9 L512.3,221.2 L514.1,221.5 L515.8,221.8 L517.6,222.1 L519.4,222.4 L521.1,222.8 L522.9,223.1 L524.6,223.4 L526.4,223.8 L528.2,224.1 L529.9,224.4 L531.7,224.7 L533.5,225.0 L535.2,225.2 L537.0,225.5 L538.8,225.7 L540.5,225.8 L542.3,226.0"/><path d="M501.7,217.3 L503.5,217.3 L505.2,217.4 L507.0,217.4 L508.8,217.4 L510.5,217.4 L512.3,217.4 L514.1,217.5 L515.8,217.5 L517.6,217.5 L519.4,217.5 L521.1,217.6 L522.9,217.6 L524.6,217.6 L526.4,217.6 L528.2,217.7 L529.9,217.7 L531.7,217.7 L533.5,217.7 L535.2,217.8 L537.0,217.8 L538.8,217.8 L540.5,217.8 L542.3,217.8"/><path d="M501.7,221.9 L503.5,221.8 L505.2,221.8 L507.0,221.7 L508.8,221.7 L510.5,221.6 L512.3,221.5 L514.1,221.4 L515.8,221.3 L517.6,221.2 L519.4,221.1 L521.1,221.0 L522.9,220.9 L524.6,220.7 L526.4,220.6 L528.2,220.5 L529.9,220.4 L531.7,220.3 L533.5,220.3 L535.2,220.2 L537.0,220.1 L538.8,220.0 L540.5,220.0 L542.3,219.9"/><path d="M295.3,219.4 L297.3,219.4 L299.3,219.4 L301.4,219.4 L303.4,219.3 L305.4,219.3 L307.4,219.3 L309.5,219.3 L311.5,219.2 L313.5,219.2 L315.5,219.2 L317.6,219.2 L319.6,219.2 L321.6,219.2 L323.6,219.2 L325.7,219.1 L327.7,219.1 L329.7,219.1 L331.7,219.1 L333.8,219.1 L335.8,219.1 L337.8,219.1 L339.8,219.1 L341.9,219.1 L343.9,219.1 L345.9,219.1 L347.9,219.1 L350.0,219.1 L352.0,219.0 L354.0,219.0 L356.0,219.0 L358.1,219.0 L360.1,219.0 L362.1,219.0 L364.1,219.0 L366.2,219.0 L368.2,219.0 L370.2,219.0 L372.2,219.0 L374.3,219.0 L376.3,219.1 L378.3,219.1 L380.3,219.1 L382.4,219.1 L384.4,219.1 L386.4,219.2 L388.4,219.2 L390.5,219.2 L392.5,219.2 L394.5,219.3 L396.5,219.3 L398.6,219.3 L400.6,219.3 L402.6,219.4 L404.6,219.4 L406.7,219.4 L408.7,219.4 L410.7,219.4 L412.7,219.4 L414.8,219.4 L416.8,219.4 L418.8,219.4 L420.8,219.4 L422.8,219.4 L424.9,219.4 L426.9,219.4 L428.9,219.4 L430.9,219.4 L433.0,219.4 L435.0,219.4 L437.0,219.4 L439.0,219.4 L441.1,219.4 L443.1,219.4 L445.1,219.4 L447.1,219.4 L449.2,219.4 L451.2,219.4 L453.2,219.4 L455.2,219.4 L457.3,219.4 L459.3,219.4 L461.3,219.4 L463.3,219.3 L465.4,219.3 L467.4,219.3 L469.4,219.3 L471.4,219.3 L473.5,219.3 L475.5,219.3 L477.5,219.3 L479.5,219.3 L481.6,219.3 L483.6,219.3 L485.6,219.3 L487.6,219.3 L489.7,219.3 L491.7,219.3 L493.7,219.3 L495.7,219.3 L497.8,219.3 L499.8,219.3 L501.8,219.3 L503.8,219.3 L505.9,219.3 L507.9,219.3 L509.9,219.3 L511.9,219.3 L514.0,219.3 L516.0,219.3 L518.0,219.3 L520.0,219.3 L522.1,219.3 L524.1,219.3 L526.1,219.4 L528.1,219.4 L530.2,219.4 L532.2,219.4 L534.2,219.4 L536.2,219.4 L538.3,219.4 L540.3,219.4 L542.3,219.4"/><path d="M458.1,220.3 L460.2,220.4 L462.2,220.5 L464.3,220.6 L466.3,220.7 L468.4,220.7 L470.4,220.8 L472.5,220.9 L474.5,221.0 L476.6,221.1 L478.6,221.1 L480.7,221.2 L482.7,221.2 L484.8,221.3 L486.9,221.3 L488.9,221.4 L491.0,221.4 L493.0,221.4 L495.1,221.5 L497.1,221.5 L499.2,221.5 L501.2,221.5 L503.3,221.5 L505.3,221.5 L507.4,221.5 L509.4,221.5 L511.5,221.4 L513.5,221.4 L515.6,221.4 L517.7,221.4 L519.7,221.3 L521.8,221.3 L523.8,221.3 L525.9,221.2 L527.9,221.2 L530.0,221.1 L532.0,221.0 L534.1,221.0 L536.1,220.9 L538.2,220.8 L540.2,220.8 L542.3,220.7"/><path d="M295.3,258.9 L297.3,258.9 L299.3,259.0 L301.4,259.0 L303.4,259.0 L305.4,259.1 L307.4,259.1 L309.5,259.1 L311.5,259.2 L313.5,259.2 L315.5,259.2 L317.6,259.3 L319.6,259.3 L321.6,259.3 L323.6,259.3 L325.7,259.4 L327.7,259.4 L329.7,259.4 L331.7,259.5 L333.8,259.5 L335.8,259.5 L337.8,259.5 L339.8,259.6 L341.9,259.6 L343.9,259.6 L345.9,259.6 L347.9,259.7 L350.0,259.7 L352.0,259.7 L354.0,259.7 L356.0,259.7 L358.1,259.8 L360.1,259.8 L362.1,259.8 L364.1,259.8 L366.2,259.8 L368.2,259.8 L370.2,259.9 L372.2,259.9 L374.3,259.9 L376.3,259.9 L378.3,259.9 L380.3,259.9 L382.4,260.0 L384.4,260.0 L386.4,260.0 L388.4,260.0 L390.5,260.0 L392.5,260.0 L394.5,260.0 L396.5,260.1 L398.6,260.1 L400.6,260.1 L402.6,260.1 L404.6,260.1 L406.7,260.1 L408.7,260.1 L410.7,260.1 L412.7,260.1 L414.8,260.1 L416.8,260.1 L418.8,260.1 L420.8,260.1 L422.8,260.1 L424.9,260.1 L426.9,260.1 L428.9,260.1 L430.9,260.1 L433.0,260.1 L435.0,260.1 L437.0,260.1 L439.0,260.1 L441.1,260.1 L443.1,260.1 L445.1,260.1 L447.1,260.1 L449.2,260.1 L451.2,260.1 L453.2,260.1 L455.2,260.1 L457.3,260.1 L459.3,260.1 L461.3,260.1 L463.3,260.1 L465.4,260.1 L467.4,260.1 L469.4,260.1 L471.4,260.1 L473.5,260.1 L475.5,260.1 L477.5,260.1 L479.5,260.1 L481.6,260.1 L483.6,260.1 L485.6,260.1 L487.6,260.1 L489.7,260.1 L491.7,260.1 L493.7,260.1 L495.7,260.1 L497.8,260.1 L499.8,260.1 L501.8,260.1 L503.8,260.1 L505.9,260.1 L507.9,260.1 L509.9,260.1 L511.9,260.1 L514.0,260.1 L516.0,260.1 L518.0,260.0 L520.0,260.0 L522.1,260.0 L524.1,260.0 L526.1,260.0 L528.1,259.9 L530.2,259.9 L532.2,259.9 L534.2,259.9 L536.2,259.9 L538.3,259.8 L540.3,259.8 L542.3,259.8"/><path d="M295.3,262.5 L297.3,262.4 L299.3,262.4 L301.4,262.3 L303.4,262.3 L305.4,262.2 L307.4,262.2 L309.5,262.1 L311.5,262.1 L313.5,262.0 L315.5,262.0 L317.6,261.9 L319.6,261.9 L321.6,261.9 L323.6,261.8 L325.7,261.8 L327.7,261.7 L329.7,261.7 L331.7,261.6 L333.8,261.6 L335.8,261.6 L337.8,261.5 L339.8,261.5 L341.9,261.5 L343.9,261.4 L345.9,261.4 L347.9,261.3 L350.0,261.3 L352.0,261.3 L354.0,261.2 L356.0,261.2 L358.1,261.2 L360.1,261.2 L362.1,261.1 L364.1,261.1 L366.2,261.1 L368.2,261.0 L370.2,261.0 L372.2,261.0 L374.3,261.0 L376.3,260.9 L378.3,260.9 L380.3,260.9 L382.4,260.9 L384.4,260.8 L386.4,260.8 L388.4,260.8 L390.5,260.8 L392.5,260.7 L394.5,260.7 L396.5,260.7 L398.6,260.7 L400.6,260.7 L402.6,260.6 L404.6,260.6 L406.7,260.6 L408.7,260.6 L410.7,260.6 L412.7,260.6 L414.8,260.6 L416.8,260.6 L418.8,260.6 L420.8,260.6 L422.8,260.6 L424.9,260.6 L426.9,260.6 L428.9,260.6 L430.9,260.6 L433.0,260.6 L435.0,260.6 L437.0,260.6 L439.0,260.6 L441.1,260.6 L443.1,260.7 L445.1,260.7 L447.1,260.7 L449.2,260.7 L451.2,260.7 L453.2,260.7 L455.2,260.7 L457.3,260.7 L459.3,260.7 L461.3,260.7 L463.3,260.7 L465.4,260.8 L467.4,260.8 L469.4,260.8 L471.4,260.8 L473.5,260.8 L475.5,260.8 L477.5,260.8 L479.5,260.8 L481.6,260.9 L483.6,260.9 L485.6,260.9 L487.6,260.9 L489.7,260.9 L491.7,260.9 L493.7,260.9 L495.7,261.0 L497.8,261.0 L499.8,261.0 L501.8,261.0 L503.8,261.0 L505.9,261.1 L507.9,261.1 L509.9,261.1 L511.9,261.1 L514.0,261.2 L516.0,261.2 L518.0,261.2 L520.0,261.3 L522.1,261.3 L524.1,261.4 L526.1,261.4 L528.1,261.5 L530.2,261.5 L532.2,261.6 L534.2,261.6 L536.2,261.7 L538.3,261.7 L540.3,261.8 L542.3,261.8"/><path d="M295.3,260.6 L297.3,260.5 L299.3,260.5 L301.4,260.4 L303.4,260.4 L305.4,260.3 L307.4,260.3 L309.5,260.2 L311.5,260.2 L313.5,260.1 L315.5,260.1 L317.6,260.0 L319.6,260.0 L321.6,259.9 L323.6,259.9 L325.7,259.9 L327.7,259.8 L329.7,259.8 L331.7,259.7 L333.8,259.7 L335.8,259.7 L337.8,259.6 L339.8,259.6 L341.9,259.6 L343.9,259.6 L345.9,259.5 L347.9,259.5 L350.0,259.5 L352.0,259.5 L354.0,259.5 L356.0,259.4 L358.1,259.4 L360.1,259.4 L362.1,259.4 L364.1,259.4 L366.2,259.4 L368.2,259.4 L370.2,259.4 L372.2,259.4 L374.3,259.4 L376.3,259.4 L378.3,259.4 L380.3,259.4 L382.4,259.4 L384.4,259.4 L386.4,259.4 L388.4,259.4 L390.5,259.4 L392.5,259.5 L394.5,259.5 L396.5,259.5 L398.6,259.5 L400.6,259.5 L402.6,259.5 L404.6,259.5 L406.7,259.5 L408.7,259.5 L410.7,259.5 L412.7,259.5 L414.8,259.5 L416.8,259.5 L418.8,259.5 L420.8,259.5 L422.8,259.5 L424.9,259.5 L426.9,259.5 L428.9,259.5 L430.9,259.5 L433.0,259.5 L435.0,259.5 L437.0,259.5 L439.0,259.5 L441.1,259.5 L443.1,259.5 L445.1,259.5 L447.1,259.5 L449.2,259.5 L451.2,259.5 L453.2,259.5 L455.2,259.5 L457.3,259.5 L459.3,259.5 L461.3,259.5 L463.3,259.4 L465.4,259.4 L467.4,259.4 L469.4,259.4 L471.4,259.4 L473.5,259.4 L475.5,259.4 L477.5,259.4 L479.5,259.4 L481.6,259.4 L483.6,259.4 L485.6,259.4 L487.6,259.4 L489.7,259.4 L491.7,259.4 L493.7,259.4 L495.7,259.4 L497.8,259.4 L499.8,259.4 L501.8,259.4 L503.8,259.4 L505.9,259.4 L507.9,259.4 L509.9,259.4 L511.9,259.4 L514.0,259.4 L516.0,259.4 L518.0,259.4 L520.0,259.4 L522.1,259.4 L524.1,259.4 L526.1,259.4 L528.1,259.4 L530.2,259.4 L532.2,259.4 L534.2,259.4 L536.2,259.4 L538.3,259.4 L540.3,259.4 L542.3,259.4"/><path d="M295.3,298.6 L542.3,298.9" stroke-width="1.5"/></g><line x1="370.9" y1="217.0" x2="370.9" y2="380.0" stroke="#ff80ff" stroke-width="1"/><line x1="414.5" y1="217.0" x2="414.5" y2="380.0" stroke="#5050d0" stroke-width="1"/><line x1="501.7" y1="217.0" x2="501.7" y2="380.0" stroke="#70c070" stroke-width="1"/><line x1="295.3" y1="380.0" x2="292.3" y2="380.0" stroke="#333" stroke-width="0.8"/><line x1="295.3" y1="371.9" x2="293.3" y2="371.9" stroke="#333" stroke-width="0.8"/><line x1="295.3" y1="363.7" x2="292.3" y2="363.7" stroke="#333" stroke-width="0.8"/><line x1="295.3" y1="355.6" x2="293.3" y2="355.6" stroke="#333" stroke-width="0.8"/><line x1="295.3" y1="347.4" x2="292.3" y2="347.4" stroke="#333" stroke-width="0.8"/><line x1="295.3" y1="339.2" x2="293.3" y2="339.2" stroke="#333" stroke-width="0.8"/><line x1="295.3" y1="331.1" x2="292.3" y2="331.1" stroke="#333" stroke-width="0.8"/><line x1="295.3" y1="322.9" x2="293.3" y2="322.9" stroke="#333" stroke-width="0.8"/><line x1="295.3" y1="314.8" x2="292.3" y2="314.8" stroke="#333" stroke-width="0.8"/><line x1="295.3" y1="306.6" x2="293.3" y2="306.6" stroke="#333" stroke-width="0.8"/><line x1="295.3" y1="298.5" x2="292.3" y2="298.5" stroke="#333" stroke-width="0.8"/><line x1="295.3" y1="290.4" x2="293.3" y2="290.4" stroke="#333" stroke-width="0.8"/><line x1="295.3" y1="282.2" x2="292.3" y2="282.2" stroke="#333" stroke-width="0.8"/><line x1="295.3" y1="274.1" x2="293.3" y2="274.1" stroke="#333" stroke-width="0.8"/><line x1="295.3" y1="265.9" x2="292.3" y2="265.9" stroke="#333" stroke-width="0.8"/><line x1="295.3" y1="257.8" x2="293.3" y2="257.8" stroke="#333" stroke-width="0.8"/><line x1="295.3" y1="249.6" x2="292.3" y2="249.6" stroke="#333" stroke-width="0.8"/><line x1="295.3" y1="241.4" x2="293.3" y2="241.4" stroke="#333" stroke-width="0.8"/><line x1="295.3" y1="233.3" x2="292.3" y2="233.3" stroke="#333" stroke-width="0.8"/><line x1="295.3" y1="225.2" x2="293.3" y2="225.2" stroke="#333" stroke-width="0.8"/><line x1="295.3" y1="217.0" x2="292.3" y2="217.0" stroke="#333" stroke-width="0.8"/><line x1="294.8" y1="217.0" x2="542.8" y2="217.0" stroke="#858585" stroke-width="1.4"/><line x1="294.8" y1="380.0" x2="542.8" y2="380.0" stroke="#404040" stroke-width="1.4"/><line x1="295.3" y1="217.0" x2="295.3" y2="380.0" stroke="#8a3030" stroke-width="1"/><line x1="542.3" y1="217.0" x2="542.3" y2="380.0" stroke="#8050e0" stroke-width="1"/><text transform="translate(291.0,381.7) scale(0.86,1)" class="tl">-10</text><text transform="translate(291.0,365.4) scale(0.86,1)" class="tl">-8</text><text transform="translate(291.0,349.1) scale(0.86,1)" class="tl">-6</text><text transform="translate(291.0,332.8) scale(0.86,1)" class="tl">-4</text><text transform="translate(291.0,316.5) scale(0.86,1)" class="tl">-2</text><text transform="translate(291.0,300.2) scale(0.86,1)" class="tl">0</text><text transform="translate(291.0,283.9) scale(0.86,1)" class="tl">2</text><text transform="translate(291.0,267.6) scale(0.86,1)" class="tl">4</text><text transform="translate(291.0,251.3) scale(0.86,1)" class="tl">6</text><text transform="translate(291.0,235.0) scale(0.86,1)" class="tl">8</text><text transform="translate(291.0,218.7) scale(0.86,1)" class="tl">10</text><line x1="295.8" y1="217.5" x2="541.8" y2="217.5" stroke="#a00a10" stroke-width="1.8"/><text x="296.2" y="386.6" class="kl">Γ</text><text x="372.5" y="386.3" class="kl">M</text><text x="414.8" y="386.6" class="kl">K</text><text x="502.2" y="386.5" class="kl">Γ</text><text x="541.2" y="387.6" class="kl">A</text><text x="252.9" y="14.5" class="ttl" fill="#1a1a9c" textLength="49.5" lengthAdjust="spacingAndGlyphs" style="font-size:12.8px">Pure ZnO</text><text x="148" y="100.2" class="yl" transform="rotate(-90 148 100.2)" text-anchor="middle">Energy(eV)</text><text x="282.6" y="75.1" class="ev" textLength="22.6" lengthAdjust="spacingAndGlyphs">2.84 eV</text><text x="389" y="17.4" class="pl">(a)</text><text x="107" y="210" class="ttl" fill="#111" textLength="82" lengthAdjust="spacingAndGlyphs">ZnO:Co(2%)-up</text><text x="252.5" y="212" class="pl">(b)</text><text x="9.6" y="297.2" class="yl" transform="rotate(-90 9.6 297.2)" text-anchor="middle">Energy(eV)</text><text x="367.7" y="210.4" class="ttl" fill="#a01010" textLength="95.8" lengthAdjust="spacingAndGlyphs">ZnO:Co(2%)-down</text><text x="527" y="212.2" class="pl">(c)</text><text x="281.3" y="297.5" class="yl" transform="rotate(-90 281.3 297.5)" text-anchor="middle">Energy(eV)</text><text x="372" y="285.6" class="co">Co:3d</text><rect x="285.6" y="294.2" width="261" height="8.4" rx="2" fill="none" stroke="#b020c0" stroke-width="1.2" stroke-dasharray="2 2.8"/></svg>
</body></html>
